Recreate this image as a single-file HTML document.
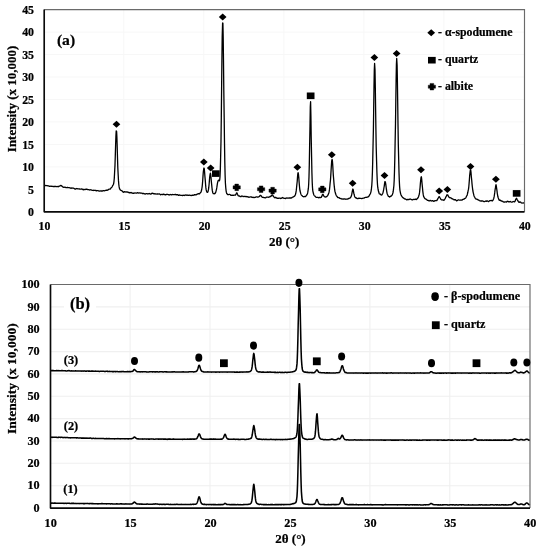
<!DOCTYPE html>
<html lang="en"><head><meta charset="utf-8"><title>XRD patterns</title>
<style>html,body{margin:0;padding:0;background:#fff}body{width:542px;height:550px;overflow:hidden}svg{display:block}
text{font-family:"Liberation Serif","DejaVu Serif",serif;font-weight:bold;fill:#000;stroke:#000;stroke-width:0.22px}
.tk{font-size:11.8px}.ti{font-size:13px}.lg{font-size:11.8px}.pl{font-size:15.6px}.plb{font-size:16.5px}.tkb{font-size:12.2px}.tib{font-size:13.5px}.lgb{font-size:12.15px}.cl{font-size:12.4px}
.g{stroke:#f7f7f7;stroke-width:1;fill:none}.gb{stroke:#f0f0f0;stroke-width:1.1;fill:none}.ax{stroke:#0a0a0a;stroke-width:1.65;fill:none;stroke-linejoin:round}.fr{stroke:#6a6a6a;stroke-width:1.15;fill:none}.cv{stroke:#000;stroke-width:1.3;fill:none;stroke-linejoin:round}.cw{stroke:#000;stroke-width:1.55;fill:none;stroke-linejoin:round}
</style></head><body>
<svg width="542" height="550" viewBox="0 0 542 550">
<rect width="542" height="550" fill="#fff"/>
<path class="g" d="M44.2 189.3H524.5M44.2 166.9H524.5M44.2 144.4H524.5M44.2 121.9H524.5M44.2 99.5H524.5M44.2 77.0H524.5M44.2 54.5H524.5M44.2 32.1H524.5M44.2 9.6H524.5M123.8 9.6V211.8M203.8 9.6V211.8M283.9 9.6V211.8M363.9 9.6V211.8M443.9 9.6V211.8"/>
<path class="cv" d="M44.2,185.5 L44.5,185.6 L44.8,185.7 L45.2,185.7 L45.5,185.5 L45.8,185.5 L46.1,185.5 L46.4,185.6 L46.8,185.7 L47.1,185.6 L47.4,185.7 L47.7,185.8 L48.0,185.8 L48.4,185.9 L48.7,185.9 L49.0,186.1 L49.3,186.3 L49.6,186.4 L50.0,186.4 L50.3,186.3 L50.6,186.2 L50.9,186.1 L51.2,186.1 L51.6,186.3 L51.9,186.4 L52.2,186.5 L52.5,186.4 L52.8,186.3 L53.2,186.4 L53.5,186.6 L53.8,186.7 L54.1,186.5 L54.4,186.5 L54.8,186.5 L55.1,186.4 L55.4,186.5 L55.7,186.5 L56.0,186.5 L56.4,186.6 L56.7,186.7 L57.0,186.7 L57.3,186.5 L57.6,186.7 L58.0,186.5 L58.3,186.5 L58.6,186.7 L58.9,186.3 L59.2,186.2 L59.6,186.2 L59.9,185.9 L60.2,185.8 L60.5,185.6 L60.9,185.4 L61.2,185.5 L61.5,185.8 L61.8,185.9 L62.1,186.4 L62.5,186.6 L62.8,186.9 L63.1,187.1 L63.4,187.2 L63.7,187.4 L64.1,187.4 L64.4,187.3 L64.7,187.1 L65.0,187.2 L65.3,187.3 L65.7,187.4 L66.0,187.7 L66.3,187.7 L66.6,187.6 L66.9,187.6 L67.3,187.4 L67.6,187.4 L67.9,187.5 L68.2,187.7 L68.5,187.6 L68.9,187.7 L69.2,187.7 L69.5,187.7 L69.8,187.9 L70.1,187.9 L70.5,188.1 L70.8,188.2 L71.1,188.3 L71.4,188.2 L71.7,188.0 L72.1,188.1 L72.4,188.0 L72.7,188.2 L73.0,188.2 L73.3,188.2 L73.7,188.2 L74.0,188.4 L74.3,188.5 L74.6,188.7 L74.9,189.0 L75.3,189.0 L75.6,189.1 L75.9,189.0 L76.2,188.5 L76.5,188.6 L76.9,188.6 L77.2,188.6 L77.5,188.8 L77.8,188.8 L78.1,188.8 L78.5,188.8 L78.8,188.8 L79.1,188.9 L79.4,188.9 L79.7,189.1 L80.1,189.2 L80.4,189.1 L80.7,189.2 L81.0,189.1 L81.3,189.0 L81.7,189.0 L82.0,189.0 L82.3,189.1 L82.6,189.4 L82.9,189.6 L83.3,189.5 L83.6,189.8 L83.9,189.5 L84.2,189.6 L84.5,189.5 L84.9,189.4 L85.2,189.4 L85.5,189.2 L85.8,189.5 L86.1,189.3 L86.5,189.2 L86.8,189.3 L87.1,189.2 L87.4,189.4 L87.7,189.7 L88.1,189.6 L88.4,189.6 L88.7,189.7 L89.0,189.7 L89.3,189.9 L89.7,190.0 L90.0,189.9 L90.3,189.9 L90.6,189.8 L90.9,189.7 L91.3,190.0 L91.6,190.1 L91.9,190.3 L92.2,190.3 L92.6,190.3 L92.9,190.3 L93.2,190.4 L93.5,190.5 L93.8,190.2 L94.2,190.3 L94.5,190.4 L94.8,190.3 L95.1,190.3 L95.4,190.5 L95.8,190.4 L96.1,190.5 L96.4,190.9 L96.7,190.7 L97.0,190.7 L97.4,190.7 L97.7,190.6 L98.0,190.7 L98.3,190.8 L98.6,190.9 L99.0,190.9 L99.3,191.2 L99.6,191.0 L99.9,191.1 L100.2,191.0 L100.6,190.8 L100.9,191.0 L101.2,191.0 L101.5,191.0 L101.8,191.0 L102.2,191.0 L102.5,191.0 L102.8,190.8 L103.1,190.7 L103.4,190.6 L103.8,190.7 L104.1,190.9 L104.4,190.8 L104.7,190.7 L105.0,190.6 L105.4,190.4 L105.7,190.4 L106.0,190.4 L106.3,190.2 L106.6,190.3 L107.0,190.1 L107.3,190.3 L107.6,190.1 L107.9,189.9 L108.2,189.9 L108.6,189.4 L108.9,189.1 L109.2,189.1 L109.5,189.2 L109.8,189.1 L110.2,189.1 L110.5,188.6 L110.8,188.0 L111.1,187.9 L111.4,187.7 L111.8,187.2 L112.1,186.9 L112.4,186.3 L112.7,185.6 L113.0,185.1 L113.4,184.5 L113.7,183.3 L114.0,181.3 L114.3,178.1 L114.6,172.5 L115.0,165.1 L115.3,155.6 L115.6,145.4 L115.9,136.4 L116.2,130.9 L116.6,131.4 L116.9,137.3 L117.2,147.1 L117.5,157.7 L117.8,167.5 L118.2,175.2 L118.5,180.9 L118.8,184.5 L119.1,186.7 L119.4,188.3 L119.8,189.1 L120.1,189.8 L120.4,190.0 L120.7,190.2 L121.0,190.4 L121.4,190.6 L121.7,190.7 L122.0,190.8 L122.3,191.2 L122.6,191.4 L123.0,191.8 L123.3,192.3 L123.6,192.2 L123.9,192.1 L124.2,191.9 L124.6,191.7 L124.9,191.8 L125.2,191.9 L125.5,192.0 L125.9,191.9 L126.2,191.8 L126.5,192.0 L126.8,192.0 L127.1,192.0 L127.5,192.0 L127.8,192.2 L128.1,192.3 L128.4,192.5 L128.7,192.4 L129.1,192.5 L129.4,192.7 L129.7,192.6 L130.0,193.0 L130.3,192.7 L130.7,192.5 L131.0,192.6 L131.3,192.5 L131.6,192.7 L131.9,193.1 L132.3,193.1 L132.6,193.2 L132.9,193.3 L133.2,193.2 L133.5,193.2 L133.9,193.3 L134.2,193.2 L134.5,193.0 L134.8,192.9 L135.1,192.8 L135.5,193.0 L135.8,193.1 L136.1,193.2 L136.4,193.2 L136.7,193.1 L137.1,192.9 L137.4,192.6 L137.7,192.8 L138.0,192.8 L138.3,192.9 L138.7,193.1 L139.0,193.1 L139.3,193.0 L139.6,192.8 L139.9,192.9 L140.3,192.9 L140.6,193.2 L140.9,193.1 L141.2,193.1 L141.5,193.1 L141.9,193.1 L142.2,193.4 L142.5,193.6 L142.8,193.5 L143.1,193.5 L143.5,193.5 L143.8,193.5 L144.1,193.6 L144.4,193.8 L144.7,193.9 L145.1,194.0 L145.4,194.0 L145.7,193.8 L146.0,193.8 L146.3,193.6 L146.7,193.7 L147.0,193.7 L147.3,193.7 L147.6,193.9 L147.9,194.0 L148.3,193.9 L148.6,193.6 L148.9,193.6 L149.2,193.5 L149.5,193.7 L149.9,193.9 L150.2,194.0 L150.5,194.1 L150.8,193.8 L151.1,194.0 L151.5,193.7 L151.8,193.3 L152.1,193.5 L152.4,193.3 L152.7,193.2 L153.1,193.4 L153.4,193.5 L153.7,193.8 L154.0,194.0 L154.3,193.8 L154.7,193.7 L155.0,193.7 L155.3,193.8 L155.6,194.0 L155.9,194.1 L156.3,194.1 L156.6,194.0 L156.9,193.9 L157.2,194.0 L157.6,194.0 L157.9,194.0 L158.2,194.1 L158.5,194.0 L158.8,193.9 L159.2,193.8 L159.5,193.9 L159.8,194.2 L160.1,194.3 L160.4,194.7 L160.8,194.9 L161.1,194.6 L161.4,194.5 L161.7,194.3 L162.0,194.4 L162.4,194.5 L162.7,194.7 L163.0,194.6 L163.3,194.2 L163.6,194.2 L164.0,194.2 L164.3,194.4 L164.6,194.7 L164.9,194.7 L165.2,194.8 L165.6,194.7 L165.9,194.8 L166.2,194.6 L166.5,194.4 L166.8,194.3 L167.2,194.3 L167.5,194.3 L167.8,194.5 L168.1,194.6 L168.4,194.6 L168.8,194.9 L169.1,195.0 L169.4,194.8 L169.7,194.8 L170.0,194.7 L170.4,194.4 L170.7,194.7 L171.0,194.7 L171.3,194.8 L171.6,194.8 L172.0,194.7 L172.3,194.5 L172.6,194.5 L172.9,194.6 L173.2,194.7 L173.6,194.7 L173.9,194.6 L174.2,194.7 L174.5,194.5 L174.8,194.6 L175.2,194.6 L175.5,194.4 L175.8,194.6 L176.1,194.9 L176.4,194.7 L176.8,194.8 L177.1,194.6 L177.4,194.6 L177.7,194.8 L178.0,195.1 L178.4,195.3 L178.7,195.1 L179.0,195.3 L179.3,195.0 L179.6,195.0 L180.0,195.2 L180.3,195.1 L180.6,195.4 L180.9,195.4 L181.2,195.3 L181.6,195.3 L181.9,195.4 L182.2,195.5 L182.5,195.5 L182.8,195.5 L183.2,195.3 L183.5,195.3 L183.8,195.2 L184.1,195.3 L184.4,195.5 L184.8,195.2 L185.1,195.2 L185.4,195.0 L185.7,195.0 L186.0,195.1 L186.4,195.1 L186.7,195.3 L187.0,195.2 L187.3,195.3 L187.6,195.2 L188.0,195.1 L188.3,195.3 L188.6,195.3 L188.9,195.3 L189.3,195.2 L189.6,195.2 L189.9,195.2 L190.2,195.4 L190.5,195.3 L190.9,195.4 L191.2,195.6 L191.5,195.4 L191.8,195.3 L192.1,195.3 L192.5,195.1 L192.8,195.2 L193.1,195.4 L193.4,195.2 L193.7,195.1 L194.1,195.0 L194.4,194.7 L194.7,194.8 L195.0,194.7 L195.3,194.7 L195.7,194.8 L196.0,194.9 L196.3,194.7 L196.6,194.6 L196.9,194.3 L197.3,194.0 L197.6,194.1 L197.9,194.0 L198.2,193.7 L198.5,193.7 L198.9,193.8 L199.2,193.7 L199.5,193.9 L199.8,193.5 L200.1,193.0 L200.5,192.6 L200.8,192.3 L201.1,191.8 L201.4,190.8 L201.7,189.5 L202.1,187.1 L202.4,184.2 L202.7,180.5 L203.0,176.1 L203.3,172.1 L203.7,169.0 L204.0,168.0 L204.3,169.0 L204.6,172.2 L204.9,176.3 L205.3,180.6 L205.6,184.7 L205.9,187.9 L206.2,189.9 L206.5,191.2 L206.9,191.8 L207.2,192.3 L207.5,192.4 L207.8,192.1 L208.1,191.2 L208.5,189.4 L208.8,187.2 L209.1,184.2 L209.4,180.6 L209.7,177.2 L210.1,174.4 L210.4,173.2 L210.7,174.5 L211.0,177.4 L211.3,181.1 L211.7,184.9 L212.0,188.0 L212.3,190.4 L212.6,192.0 L212.9,193.0 L213.3,193.6 L213.6,193.7 L213.9,193.7 L214.2,193.8 L214.5,193.5 L214.9,193.5 L215.2,193.2 L215.5,192.6 L215.8,192.1 L216.1,190.8 L216.5,189.3 L216.8,187.7 L217.1,185.6 L217.4,183.7 L217.7,182.1 L218.1,180.8 L218.4,180.2 L218.7,180.2 L219.0,180.6 L219.3,180.8 L219.7,179.9 L220.0,176.9 L220.3,170.2 L220.6,158.4 L221.0,141.0 L221.3,117.2 L221.6,89.2 L221.9,60.8 L222.2,36.7 L222.6,23.0 L222.9,23.1 L223.2,37.2 L223.5,61.4 L223.8,90.2 L224.2,118.8 L224.5,143.2 L224.8,161.9 L225.1,174.9 L225.4,183.0 L225.8,188.1 L226.1,190.8 L226.4,192.4 L226.7,193.5 L227.0,193.8 L227.4,194.2 L227.7,194.6 L228.0,194.6 L228.3,194.6 L228.6,194.6 L229.0,194.5 L229.3,194.4 L229.6,194.4 L229.9,194.5 L230.2,194.6 L230.6,195.0 L230.9,195.4 L231.2,195.4 L231.5,195.4 L231.8,195.2 L232.2,195.1 L232.5,195.3 L232.8,195.3 L233.1,195.3 L233.4,195.3 L233.8,195.1 L234.1,195.1 L234.4,195.1 L234.7,195.1 L235.0,195.2 L235.4,195.2 L235.7,194.6 L236.0,194.1 L236.3,193.4 L236.6,192.9 L237.0,193.0 L237.3,193.7 L237.6,194.5 L237.9,195.2 L238.2,195.7 L238.6,195.9 L238.9,196.0 L239.2,196.0 L239.5,196.0 L239.8,196.1 L240.2,196.6 L240.5,196.6 L240.8,196.6 L241.1,196.6 L241.4,196.2 L241.8,196.0 L242.1,196.1 L242.4,196.1 L242.7,196.3 L243.0,196.5 L243.4,196.6 L243.7,196.5 L244.0,196.4 L244.3,196.4 L244.6,196.4 L245.0,196.6 L245.3,196.6 L245.6,196.6 L245.9,196.4 L246.2,196.6 L246.6,196.7 L246.9,196.8 L247.2,196.8 L247.5,196.7 L247.8,196.8 L248.2,196.9 L248.5,197.0 L248.8,197.3 L249.1,197.3 L249.4,197.1 L249.8,197.1 L250.1,197.0 L250.4,196.9 L250.7,196.9 L251.0,197.0 L251.4,196.9 L251.7,197.0 L252.0,197.3 L252.3,197.3 L252.7,197.5 L253.0,197.4 L253.3,197.3 L253.6,197.5 L253.9,197.4 L254.3,197.6 L254.6,197.5 L254.9,197.4 L255.2,197.4 L255.5,197.2 L255.9,197.1 L256.2,196.8 L256.5,196.8 L256.8,196.8 L257.1,196.9 L257.5,197.1 L257.8,197.2 L258.1,197.1 L258.4,197.0 L258.7,196.9 L259.1,196.6 L259.4,196.5 L259.7,196.0 L260.0,195.6 L260.3,195.3 L260.7,195.3 L261.0,195.7 L261.3,196.2 L261.6,196.4 L261.9,196.9 L262.3,197.2 L262.6,197.4 L262.9,197.4 L263.2,197.4 L263.5,197.5 L263.9,197.5 L264.2,197.6 L264.5,197.6 L264.8,197.8 L265.1,197.8 L265.5,197.9 L265.8,197.6 L266.1,197.4 L266.4,197.2 L266.7,197.1 L267.1,197.1 L267.4,197.2 L267.7,197.2 L268.0,197.2 L268.3,197.3 L268.7,197.2 L269.0,197.2 L269.3,197.0 L269.6,196.8 L269.9,196.7 L270.3,196.3 L270.6,196.6 L270.9,196.4 L271.2,196.1 L271.5,195.7 L271.9,195.0 L272.2,194.9 L272.5,195.1 L272.8,195.3 L273.1,196.0 L273.5,196.5 L273.8,196.7 L274.1,197.2 L274.4,197.6 L274.7,197.7 L275.1,197.8 L275.4,197.7 L275.7,197.3 L276.0,197.5 L276.3,197.7 L276.7,198.0 L277.0,198.3 L277.3,198.4 L277.6,198.2 L277.9,198.3 L278.3,198.2 L278.6,198.3 L278.9,198.3 L279.2,198.2 L279.5,198.2 L279.9,198.1 L280.2,198.2 L280.5,198.3 L280.8,198.6 L281.1,198.5 L281.5,198.2 L281.8,197.9 L282.1,197.6 L282.4,197.5 L282.7,197.8 L283.1,197.9 L283.4,198.1 L283.7,198.2 L284.0,198.2 L284.3,198.4 L284.7,198.4 L285.0,198.5 L285.3,198.5 L285.6,198.5 L286.0,198.2 L286.3,198.2 L286.6,198.1 L286.9,197.9 L287.2,198.1 L287.6,198.2 L287.9,198.2 L288.2,198.2 L288.5,198.2 L288.8,198.1 L289.2,197.8 L289.5,198.0 L289.8,198.0 L290.1,198.0 L290.4,197.9 L290.8,198.0 L291.1,198.0 L291.4,198.0 L291.7,197.9 L292.0,197.5 L292.4,197.2 L292.7,197.2 L293.0,197.0 L293.3,196.9 L293.6,196.9 L294.0,196.4 L294.3,196.3 L294.6,196.1 L294.9,195.6 L295.2,195.1 L295.6,194.1 L295.9,192.6 L296.2,190.9 L296.5,188.2 L296.8,185.1 L297.2,181.5 L297.5,177.4 L297.8,173.9 L298.1,172.6 L298.4,173.9 L298.8,177.5 L299.1,181.9 L299.4,185.5 L299.7,188.6 L300.0,190.8 L300.4,192.2 L300.7,193.4 L301.0,194.2 L301.3,194.8 L301.6,195.3 L302.0,195.6 L302.3,195.8 L302.6,196.3 L302.9,196.5 L303.2,196.6 L303.6,196.7 L303.9,196.8 L304.2,196.6 L304.5,196.5 L304.8,196.5 L305.2,196.4 L305.5,196.5 L305.8,196.2 L306.1,195.9 L306.4,195.4 L306.8,195.0 L307.1,194.4 L307.4,193.7 L307.7,192.7 L308.0,190.9 L308.4,188.2 L308.7,184.0 L309.0,176.7 L309.3,164.8 L309.6,147.5 L310.0,125.9 L310.3,106.8 L310.6,101.7 L310.9,115.4 L311.2,137.1 L311.6,157.1 L311.9,172.3 L312.2,182.0 L312.5,187.6 L312.8,190.8 L313.2,192.5 L313.5,193.8 L313.8,194.7 L314.1,195.3 L314.4,195.7 L314.8,196.0 L315.1,196.3 L315.4,196.6 L315.7,197.0 L316.0,197.2 L316.4,197.3 L316.7,197.4 L317.0,197.5 L317.3,197.4 L317.7,197.4 L318.0,197.5 L318.3,197.6 L318.6,197.8 L318.9,197.4 L319.3,197.5 L319.6,197.5 L319.9,197.5 L320.2,197.7 L320.5,197.5 L320.9,197.4 L321.2,197.3 L321.5,196.9 L321.8,196.4 L322.1,195.6 L322.5,194.6 L322.8,194.3 L323.1,194.4 L323.4,195.1 L323.7,195.9 L324.1,196.3 L324.4,196.7 L324.7,196.8 L325.0,196.9 L325.3,196.9 L325.7,197.1 L326.0,197.0 L326.3,196.8 L326.6,196.7 L326.9,196.4 L327.3,196.0 L327.6,195.7 L327.9,195.2 L328.2,194.5 L328.5,193.9 L328.9,192.7 L329.2,191.2 L329.5,189.4 L329.8,186.8 L330.1,183.4 L330.5,179.8 L330.8,175.1 L331.1,170.1 L331.4,165.2 L331.7,161.0 L332.1,159.4 L332.4,160.8 L332.7,164.6 L333.0,169.8 L333.3,175.1 L333.7,179.5 L334.0,183.6 L334.3,186.7 L334.6,189.2 L334.9,191.2 L335.3,192.5 L335.6,193.8 L335.9,194.6 L336.2,195.3 L336.5,195.9 L336.9,196.2 L337.2,196.6 L337.5,197.3 L337.8,197.4 L338.1,197.6 L338.5,197.7 L338.8,197.6 L339.1,197.7 L339.4,198.0 L339.7,198.3 L340.1,198.4 L340.4,198.5 L340.7,198.7 L341.0,198.5 L341.3,198.7 L341.7,199.0 L342.0,198.8 L342.3,199.0 L342.6,199.1 L342.9,199.0 L343.3,199.1 L343.6,199.0 L343.9,199.0 L344.2,198.9 L344.5,198.9 L344.9,199.1 L345.2,199.1 L345.5,199.1 L345.8,199.3 L346.1,199.2 L346.5,199.2 L346.8,199.2 L347.1,199.1 L347.4,199.1 L347.7,198.9 L348.1,198.9 L348.4,198.7 L348.7,198.4 L349.0,198.5 L349.4,198.2 L349.7,198.2 L350.0,198.0 L350.3,197.9 L350.6,197.5 L351.0,196.7 L351.3,196.2 L351.6,195.0 L351.9,193.6 L352.2,191.9 L352.6,189.9 L352.9,189.0 L353.2,189.7 L353.5,191.3 L353.8,193.2 L354.2,194.5 L354.5,195.9 L354.8,196.7 L355.1,197.3 L355.4,197.7 L355.8,197.7 L356.1,198.1 L356.4,198.0 L356.7,198.4 L357.0,198.5 L357.4,198.6 L357.7,198.7 L358.0,198.6 L358.3,198.4 L358.6,198.3 L359.0,198.1 L359.3,198.2 L359.6,198.4 L359.9,198.3 L360.2,198.3 L360.6,198.4 L360.9,198.4 L361.2,198.5 L361.5,198.6 L361.8,198.6 L362.2,198.4 L362.5,198.4 L362.8,198.3 L363.1,198.2 L363.4,198.2 L363.8,198.1 L364.1,198.2 L364.4,197.8 L364.7,197.7 L365.0,197.5 L365.4,197.3 L365.7,197.4 L366.0,197.4 L366.3,197.4 L366.6,197.4 L367.0,197.2 L367.3,197.0 L367.6,197.1 L367.9,197.0 L368.2,196.9 L368.6,196.6 L368.9,196.1 L369.2,195.8 L369.5,195.1 L369.8,194.6 L370.2,194.0 L370.5,193.4 L370.8,192.3 L371.1,191.1 L371.4,188.9 L371.8,185.2 L372.1,180.3 L372.4,172.6 L372.7,161.9 L373.0,147.6 L373.4,129.2 L373.7,108.2 L374.0,86.8 L374.3,70.0 L374.6,63.5 L375.0,69.9 L375.3,86.7 L375.6,107.9 L375.9,129.0 L376.2,147.1 L376.6,161.5 L376.9,172.0 L377.2,179.6 L377.5,184.6 L377.8,187.7 L378.2,190.0 L378.5,191.3 L378.8,192.3 L379.1,193.3 L379.4,193.8 L379.8,193.8 L380.1,194.1 L380.4,194.3 L380.7,194.6 L381.1,195.0 L381.4,195.1 L381.7,195.0 L382.0,194.7 L382.3,194.1 L382.7,193.5 L383.0,192.5 L383.3,191.3 L383.6,189.9 L383.9,188.0 L384.3,185.8 L384.6,183.3 L384.9,181.7 L385.2,181.6 L385.5,182.7 L385.9,185.2 L386.2,187.8 L386.5,189.9 L386.8,191.8 L387.1,193.4 L387.5,194.4 L387.8,195.1 L388.1,196.0 L388.4,196.1 L388.7,196.5 L389.1,196.7 L389.4,196.7 L389.7,197.0 L390.0,196.7 L390.3,196.4 L390.7,196.3 L391.0,196.0 L391.3,196.0 L391.6,195.6 L391.9,195.3 L392.3,194.9 L392.6,193.9 L392.9,193.0 L393.2,191.5 L393.5,189.1 L393.9,185.5 L394.2,180.0 L394.5,171.3 L394.8,159.2 L395.1,143.4 L395.5,123.7 L395.8,101.8 L396.1,80.9 L396.4,64.6 L396.7,58.5 L397.1,65.0 L397.4,81.2 L397.7,102.6 L398.0,124.5 L398.3,144.1 L398.7,160.1 L399.0,172.2 L399.3,180.7 L399.6,186.4 L399.9,190.0 L400.3,192.1 L400.6,193.6 L400.9,194.5 L401.2,195.2 L401.5,195.9 L401.9,196.4 L402.2,196.9 L402.5,197.2 L402.8,197.6 L403.1,197.7 L403.5,198.0 L403.8,198.3 L404.1,198.4 L404.4,198.7 L404.7,198.9 L405.1,199.0 L405.4,199.0 L405.7,199.1 L406.0,199.4 L406.3,199.5 L406.7,199.9 L407.0,199.8 L407.3,199.5 L407.6,199.4 L407.9,199.4 L408.3,199.5 L408.6,199.5 L408.9,199.6 L409.2,199.5 L409.5,199.2 L409.9,199.1 L410.2,199.0 L410.5,199.1 L410.8,199.2 L411.1,199.4 L411.5,199.6 L411.8,199.7 L412.1,199.8 L412.4,199.9 L412.8,199.8 L413.1,199.6 L413.4,199.3 L413.7,199.3 L414.0,199.3 L414.4,199.3 L414.7,199.5 L415.0,199.3 L415.3,199.2 L415.6,199.2 L416.0,199.4 L416.3,199.6 L416.6,199.3 L416.9,199.0 L417.2,198.7 L417.6,198.3 L417.9,198.0 L418.2,197.4 L418.5,196.7 L418.8,195.7 L419.2,194.6 L419.5,192.9 L419.8,190.1 L420.1,187.1 L420.4,183.1 L420.8,179.3 L421.1,177.0 L421.4,176.8 L421.7,179.3 L422.0,183.1 L422.4,186.9 L422.7,190.3 L423.0,192.8 L423.3,194.9 L423.6,196.4 L424.0,197.1 L424.3,197.8 L424.6,198.1 L424.9,198.6 L425.2,198.7 L425.6,199.0 L425.9,199.2 L426.2,199.2 L426.5,199.5 L426.8,199.8 L427.2,199.8 L427.5,200.3 L427.8,200.3 L428.1,200.4 L428.4,200.6 L428.8,200.7 L429.1,200.9 L429.4,200.9 L429.7,200.8 L430.0,200.5 L430.4,200.4 L430.7,200.5 L431.0,200.8 L431.3,200.9 L431.6,201.0 L432.0,200.9 L432.3,200.6 L432.6,200.7 L432.9,200.8 L433.2,200.9 L433.6,201.3 L433.9,201.4 L434.2,201.1 L434.5,200.9 L434.8,200.9 L435.2,200.7 L435.5,200.7 L435.8,200.7 L436.1,200.5 L436.4,200.5 L436.8,200.5 L437.1,200.1 L437.4,199.6 L437.7,199.0 L438.0,198.4 L438.4,197.7 L438.7,197.1 L439.0,196.8 L439.3,196.7 L439.6,197.1 L440.0,197.8 L440.3,198.2 L440.6,198.8 L440.9,199.5 L441.2,199.6 L441.6,199.8 L441.9,199.9 L442.2,199.8 L442.5,199.8 L442.8,199.9 L443.2,200.1 L443.5,200.2 L443.8,200.3 L444.1,200.2 L444.4,199.6 L444.8,199.1 L445.1,198.6 L445.4,198.1 L445.7,197.3 L446.1,196.7 L446.4,196.0 L446.7,195.1 L447.0,194.9 L447.3,194.8 L447.7,194.9 L448.0,195.5 L448.3,196.2 L448.6,196.6 L448.9,197.1 L449.3,197.4 L449.6,197.5 L449.9,197.8 L450.2,197.7 L450.5,197.8 L450.9,197.9 L451.2,198.0 L451.5,198.5 L451.8,198.5 L452.1,198.8 L452.5,198.8 L452.8,198.9 L453.1,199.2 L453.4,199.5 L453.7,199.7 L454.1,199.8 L454.4,199.7 L454.7,199.8 L455.0,199.7 L455.3,199.7 L455.7,199.9 L456.0,200.2 L456.3,200.5 L456.6,200.9 L456.9,200.7 L457.3,200.6 L457.6,200.3 L457.9,200.1 L458.2,200.0 L458.5,199.8 L458.9,200.0 L459.2,200.1 L459.5,200.2 L459.8,200.2 L460.1,200.2 L460.5,200.2 L460.8,200.0 L461.1,200.2 L461.4,200.0 L461.7,200.1 L462.1,200.1 L462.4,199.7 L462.7,199.6 L463.0,199.3 L463.3,199.4 L463.7,199.2 L464.0,199.1 L464.3,198.9 L464.6,198.5 L464.9,198.6 L465.3,198.3 L465.6,198.0 L465.9,197.6 L466.2,196.9 L466.5,196.2 L466.9,195.7 L467.2,194.9 L467.5,193.7 L467.8,192.5 L468.1,190.8 L468.5,189.2 L468.8,186.8 L469.1,183.4 L469.4,179.6 L469.7,175.4 L470.1,171.8 L470.4,169.9 L470.7,169.9 L471.0,172.4 L471.3,176.2 L471.7,180.0 L472.0,183.6 L472.3,186.5 L472.6,188.9 L472.9,191.0 L473.3,192.9 L473.6,194.2 L473.9,195.4 L474.2,196.2 L474.5,196.9 L474.9,197.5 L475.2,198.1 L475.5,198.6 L475.8,198.9 L476.1,199.2 L476.5,199.2 L476.8,199.0 L477.1,199.2 L477.4,199.5 L477.8,199.7 L478.1,200.0 L478.4,200.1 L478.7,200.0 L479.0,200.2 L479.4,200.5 L479.7,200.7 L480.0,200.9 L480.3,200.8 L480.6,201.0 L481.0,200.9 L481.3,201.0 L481.6,201.0 L481.9,201.0 L482.2,200.9 L482.6,200.9 L482.9,201.2 L483.2,201.3 L483.5,201.3 L483.8,201.6 L484.2,201.6 L484.5,201.6 L484.8,201.5 L485.1,201.3 L485.4,201.3 L485.8,201.0 L486.1,201.2 L486.4,201.3 L486.7,200.9 L487.0,201.1 L487.4,201.0 L487.7,201.2 L488.0,201.2 L488.3,201.4 L488.6,201.6 L489.0,201.1 L489.3,201.1 L489.6,200.8 L489.9,200.6 L490.2,200.7 L490.6,200.6 L490.9,200.6 L491.2,200.4 L491.5,200.6 L491.8,200.6 L492.2,200.8 L492.5,200.8 L492.8,200.3 L493.1,200.0 L493.4,199.3 L493.8,198.2 L494.1,196.9 L494.4,195.0 L494.7,192.9 L495.0,190.3 L495.4,187.9 L495.7,185.8 L496.0,184.7 L496.3,185.9 L496.6,188.1 L497.0,190.9 L497.3,193.5 L497.6,195.2 L497.9,196.8 L498.2,197.8 L498.6,198.7 L498.9,199.6 L499.2,200.1 L499.5,200.3 L499.8,200.2 L500.2,200.2 L500.5,200.3 L500.8,200.6 L501.1,201.0 L501.4,201.1 L501.8,201.0 L502.1,201.2 L502.4,201.2 L502.7,201.4 L503.0,201.6 L503.4,201.8 L503.7,201.9 L504.0,202.1 L504.3,202.1 L504.6,202.0 L505.0,202.0 L505.3,201.8 L505.6,201.9 L505.9,201.9 L506.2,201.9 L506.6,202.0 L506.9,201.6 L507.2,201.4 L507.5,201.3 L507.8,201.2 L508.2,201.6 L508.5,201.6 L508.8,201.6 L509.1,202.0 L509.5,201.6 L509.8,201.6 L510.1,201.7 L510.4,201.4 L510.7,201.8 L511.1,202.0 L511.4,202.1 L511.7,202.2 L512.0,202.1 L512.3,202.1 L512.7,201.8 L513.0,201.7 L513.3,201.5 L513.6,201.6 L513.9,201.6 L514.3,201.7 L514.6,201.9 L514.9,201.3 L515.2,201.0 L515.5,200.1 L515.9,199.1 L516.2,198.7 L516.5,198.3 L516.8,198.7 L517.1,199.5 L517.5,200.1 L517.8,200.7 L518.1,201.2 L518.4,201.7 L518.7,202.1 L519.1,202.4 L519.4,202.3 L519.7,202.0 L520.0,202.0 L520.3,202.0 L520.7,202.2 L521.0,202.6 L521.3,202.8 L521.6,203.0 L521.9,203.1 L522.3,203.1 L522.6,203.0 L522.9,202.9 L523.2,202.9 L523.5,203.0 L523.9,203.0 L524.2,202.8 L524.5,202.7"/>
<path class="fr" d="M44.2 9.6H524.5V211.8"/>
<path class="ax" d="M44.2 9.6V211.8H524.5"/>
<text class="tk" text-anchor="end" x="34" y="216.3">0</text>
<text class="tk" text-anchor="end" x="34" y="193.8">5</text>
<text class="tk" text-anchor="end" x="34" y="171.3">10</text>
<text class="tk" text-anchor="end" x="34" y="148.7">15</text>
<text class="tk" text-anchor="end" x="34" y="126.2">20</text>
<text class="tk" text-anchor="end" x="34" y="103.7">25</text>
<text class="tk" text-anchor="end" x="34" y="81.2">30</text>
<text class="tk" text-anchor="end" x="34" y="58.6">35</text>
<text class="tk" text-anchor="end" x="34" y="36.1">40</text>
<text class="tk" text-anchor="end" x="34" y="13.6">45</text>
<text class="tk" text-anchor="middle" x="44.5" y="229.9">10</text>
<text class="tk" text-anchor="middle" x="124.5" y="229.9">15</text>
<text class="tk" text-anchor="middle" x="204.6" y="229.9">20</text>
<text class="tk" text-anchor="middle" x="284.7" y="229.9">25</text>
<text class="tk" text-anchor="middle" x="364.7" y="229.9">30</text>
<text class="tk" text-anchor="middle" x="444.8" y="229.9">35</text>
<text class="tk" text-anchor="middle" x="524.8" y="229.9">40</text>
<text class="ti" text-anchor="middle" x="284.2" y="246.1">2θ (°)</text>
<text class="ti" text-anchor="middle" transform="translate(16.3 98.9) rotate(-90)">Intensity (x 10,000)</text>
<text class="pl" x="56.9" y="45">(a)</text>
<g fill="#000">
<path d="M112.6 124.2L116.5 120.7L120.3 124.2L116.5 127.7Z"/>
<path d="M200.0 162.1L203.8 158.6L207.7 162.1L203.8 165.6Z"/>
<path d="M206.8 168.0L210.7 164.5L214.5 168.0L210.7 171.5Z"/>
<path d="M293.5 167.2L297.4 163.7L301.2 167.2L297.4 170.7Z"/>
<path d="M327.9 154.8L331.8 151.3L335.7 154.8L331.8 158.3Z"/>
<path d="M348.8 183.2L352.6 179.7L356.5 183.2L352.6 186.7Z"/>
<path d="M380.6 175.6L384.5 172.1L388.4 175.6L384.5 179.1Z"/>
<path d="M370.5 57.5L374.4 54.0L378.2 57.5L374.4 61.0Z"/>
<path d="M392.8 53.5L396.6 50.0L400.5 53.5L396.6 57.0Z"/>
<path d="M417.1 169.7L421.0 166.2L424.9 169.7L421.0 173.2Z"/>
<path d="M435.3 191.0L439.2 187.5L443.1 191.0L439.2 194.5Z"/>
<path d="M443.5 189.4L447.4 185.9L451.2 189.4L447.4 192.9Z"/>
<path d="M466.6 166.5L470.5 163.0L474.4 166.5L470.5 170.0Z"/>
<path d="M492.0 179.2L495.9 175.7L499.8 179.2L495.9 182.7Z"/>
<path d="M218.8 17.1L222.7 13.6L226.5 17.1L222.7 20.6Z"/>
<path d="M427.3 32.7L431.2 29.2L435.1 32.7L431.2 36.2Z"/>
<rect x="212.0" y="170.3" width="7.7" height="6.6"/>
<rect x="306.8" y="92.5" width="7.7" height="6.6"/>
<rect x="512.8" y="190.1" width="7.7" height="6.6"/>
<rect x="428.0" y="56.9" width="7.7" height="6.6"/>
<path d="M234.85 184.05h3.70v1.75h1.80v3.10h-1.80v1.75h-3.70v-1.75h-1.80v-3.10h1.80Z" stroke="#000" stroke-width="0.4" stroke-linejoin="round"/>
<path d="M259.25 185.90h3.70v1.75h1.80v3.10h-1.80v1.75h-3.70v-1.75h-1.80v-3.10h1.80Z" stroke="#000" stroke-width="0.4" stroke-linejoin="round"/>
<path d="M270.75 187.30h3.70v1.75h1.80v3.10h-1.80v1.75h-3.70v-1.75h-1.80v-3.10h1.80Z" stroke="#000" stroke-width="0.4" stroke-linejoin="round"/>
<path d="M320.45 186.10h3.70v1.75h1.80v3.10h-1.80v1.75h-3.70v-1.75h-1.80v-3.10h1.80Z" stroke="#000" stroke-width="0.4" stroke-linejoin="round"/>
<path d="M430.05 83.40h3.70v1.75h1.80v3.10h-1.80v1.75h-3.70v-1.75h-1.80v-3.10h1.80Z" stroke="#000" stroke-width="0.4" stroke-linejoin="round"/>
</g>
<text class="lg" x="438" y="35.9">- α-spodumene</text>
<text class="lg" x="438" y="62.8">- quartz</text>
<text class="lg" x="438" y="90.1">- albite</text>
<path class="gb" d="M50.5 485.7H530.0M50.5 463.3H530.0M50.5 441.0H530.0M50.5 418.6H530.0M50.5 396.3H530.0M50.5 373.9H530.0M50.5 351.6H530.0M50.5 329.2H530.0M50.5 306.9H530.0M50.5 284.5H530.0M130.1 284.5V508.1M210.0 284.5V508.1M289.9 284.5V508.1M369.9 284.5V508.1M449.8 284.5V508.1"/>
<path class="cw" d="M50.5,503.2 L50.8,503.2 L51.1,503.2 L51.5,503.1 L51.8,503.1 L52.1,503.0 L52.4,503.1 L52.7,503.2 L53.1,503.2 L53.4,503.2 L53.7,503.2 L54.0,503.1 L54.3,503.1 L54.7,503.1 L55.0,503.1 L55.3,503.1 L55.6,503.2 L55.9,503.2 L56.3,503.3 L56.6,503.3 L56.9,503.2 L57.2,503.2 L57.5,503.3 L57.9,503.3 L58.2,503.3 L58.5,503.2 L58.8,503.2 L59.1,503.2 L59.5,503.2 L59.8,503.2 L60.1,503.2 L60.4,503.2 L60.7,503.3 L61.0,503.3 L61.4,503.3 L61.7,503.3 L62.0,503.2 L62.3,503.2 L62.6,503.2 L63.0,503.3 L63.3,503.3 L63.6,503.3 L63.9,503.4 L64.2,503.4 L64.6,503.3 L64.9,503.3 L65.2,503.2 L65.5,503.3 L65.8,503.3 L66.2,503.4 L66.5,503.4 L66.8,503.3 L67.1,503.3 L67.4,503.2 L67.8,503.3 L68.1,503.3 L68.4,503.2 L68.7,503.3 L69.0,503.3 L69.4,503.2 L69.7,503.4 L70.0,503.4 L70.3,503.5 L70.6,503.5 L71.0,503.4 L71.3,503.4 L71.6,503.3 L71.9,503.4 L72.2,503.3 L72.6,503.4 L72.9,503.3 L73.2,503.4 L73.5,503.3 L73.8,503.3 L74.2,503.4 L74.5,503.4 L74.8,503.4 L75.1,503.5 L75.4,503.4 L75.8,503.5 L76.1,503.6 L76.4,503.5 L76.7,503.5 L77.0,503.4 L77.4,503.4 L77.7,503.4 L78.0,503.4 L78.3,503.4 L78.6,503.5 L79.0,503.6 L79.3,503.6 L79.6,503.5 L79.9,503.5 L80.2,503.4 L80.5,503.4 L80.9,503.4 L81.2,503.5 L81.5,503.5 L81.8,503.4 L82.1,503.4 L82.5,503.4 L82.8,503.5 L83.1,503.6 L83.4,503.6 L83.7,503.7 L84.1,503.6 L84.4,503.6 L84.7,503.6 L85.0,503.6 L85.3,503.5 L85.7,503.5 L86.0,503.5 L86.3,503.4 L86.6,503.4 L86.9,503.5 L87.3,503.4 L87.6,503.5 L87.9,503.5 L88.2,503.5 L88.5,503.6 L88.9,503.7 L89.2,503.7 L89.5,503.6 L89.8,503.6 L90.1,503.5 L90.5,503.5 L90.8,503.6 L91.1,503.5 L91.4,503.6 L91.7,503.6 L92.1,503.6 L92.4,503.6 L92.7,503.6 L93.0,503.6 L93.3,503.7 L93.7,503.7 L94.0,503.7 L94.3,503.7 L94.6,503.7 L94.9,503.7 L95.3,503.7 L95.6,503.7 L95.9,503.7 L96.2,503.7 L96.5,503.7 L96.9,503.7 L97.2,503.8 L97.5,503.8 L97.8,503.9 L98.1,503.9 L98.4,503.8 L98.8,503.8 L99.1,503.8 L99.4,503.7 L99.7,503.7 L100.0,503.8 L100.4,503.8 L100.7,503.8 L101.0,503.8 L101.3,503.7 L101.6,503.6 L102.0,503.6 L102.3,503.6 L102.6,503.7 L102.9,503.7 L103.2,503.7 L103.6,503.8 L103.9,503.7 L104.2,503.8 L104.5,503.8 L104.8,503.7 L105.2,503.8 L105.5,503.8 L105.8,503.8 L106.1,503.8 L106.4,503.9 L106.8,503.8 L107.1,503.8 L107.4,503.8 L107.7,503.8 L108.0,503.8 L108.4,503.8 L108.7,503.8 L109.0,503.8 L109.3,503.8 L109.6,503.8 L110.0,503.8 L110.3,503.9 L110.6,503.9 L110.9,503.9 L111.2,503.8 L111.6,503.8 L111.9,503.8 L112.2,503.8 L112.5,503.9 L112.8,504.0 L113.2,504.0 L113.5,504.0 L113.8,504.0 L114.1,504.0 L114.4,504.0 L114.8,504.0 L115.1,504.0 L115.4,503.9 L115.7,503.9 L116.0,503.9 L116.4,503.8 L116.7,503.9 L117.0,503.8 L117.3,503.9 L117.6,504.0 L117.9,503.9 L118.3,504.0 L118.6,503.9 L118.9,503.9 L119.2,504.0 L119.5,503.9 L119.9,504.0 L120.2,503.9 L120.5,503.8 L120.8,503.8 L121.1,503.8 L121.5,503.9 L121.8,503.8 L122.1,503.9 L122.4,503.9 L122.7,503.9 L123.1,504.0 L123.4,504.0 L123.7,504.0 L124.0,504.1 L124.3,504.0 L124.7,504.1 L125.0,504.0 L125.3,503.9 L125.6,503.9 L125.9,503.8 L126.3,503.9 L126.6,503.9 L126.9,503.9 L127.2,503.9 L127.5,503.9 L127.9,503.9 L128.2,504.0 L128.5,504.0 L128.8,504.0 L129.1,504.1 L129.5,504.0 L129.8,504.0 L130.1,504.0 L130.4,503.9 L130.7,503.9 L131.1,503.9 L131.4,503.9 L131.7,503.9 L132.0,503.8 L132.3,503.7 L132.7,503.5 L133.0,503.2 L133.3,503.0 L133.6,502.6 L133.9,502.3 L134.3,502.1 L134.6,502.1 L134.9,502.3 L135.2,502.6 L135.5,502.9 L135.9,503.2 L136.2,503.5 L136.5,503.7 L136.8,503.9 L137.1,504.0 L137.4,503.9 L137.8,504.0 L138.1,504.0 L138.4,504.0 L138.7,504.0 L139.0,504.0 L139.4,504.1 L139.7,504.1 L140.0,504.1 L140.3,504.1 L140.6,504.0 L141.0,504.1 L141.3,504.1 L141.6,504.1 L141.9,504.1 L142.2,504.1 L142.6,504.2 L142.9,504.2 L143.2,504.2 L143.5,504.2 L143.8,504.2 L144.2,504.2 L144.5,504.2 L144.8,504.2 L145.1,504.2 L145.4,504.3 L145.8,504.3 L146.1,504.3 L146.4,504.2 L146.7,504.1 L147.0,504.1 L147.4,504.0 L147.7,504.1 L148.0,504.2 L148.3,504.2 L148.6,504.2 L149.0,504.2 L149.3,504.2 L149.6,504.2 L149.9,504.2 L150.2,504.3 L150.6,504.2 L150.9,504.2 L151.2,504.2 L151.5,504.2 L151.8,504.2 L152.2,504.3 L152.5,504.3 L152.8,504.2 L153.1,504.1 L153.4,504.1 L153.8,504.0 L154.1,504.0 L154.4,504.1 L154.7,504.1 L155.0,504.0 L155.4,503.9 L155.7,503.8 L156.0,503.9 L156.3,503.9 L156.6,504.0 L156.9,504.0 L157.3,504.0 L157.6,504.1 L157.9,504.2 L158.2,504.2 L158.5,504.3 L158.9,504.3 L159.2,504.3 L159.5,504.4 L159.8,504.4 L160.1,504.3 L160.5,504.3 L160.8,504.3 L161.1,504.3 L161.4,504.3 L161.7,504.4 L162.1,504.5 L162.4,504.4 L162.7,504.3 L163.0,504.3 L163.3,504.3 L163.7,504.3 L164.0,504.4 L164.3,504.4 L164.6,504.3 L164.9,504.4 L165.3,504.4 L165.6,504.4 L165.9,504.3 L166.2,504.3 L166.5,504.3 L166.9,504.3 L167.2,504.3 L167.5,504.3 L167.8,504.3 L168.1,504.3 L168.5,504.3 L168.8,504.4 L169.1,504.4 L169.4,504.4 L169.7,504.4 L170.1,504.4 L170.4,504.3 L170.7,504.4 L171.0,504.4 L171.3,504.5 L171.7,504.5 L172.0,504.5 L172.3,504.5 L172.6,504.4 L172.9,504.4 L173.3,504.4 L173.6,504.4 L173.9,504.4 L174.2,504.4 L174.5,504.4 L174.9,504.3 L175.2,504.4 L175.5,504.4 L175.8,504.4 L176.1,504.4 L176.4,504.3 L176.8,504.3 L177.1,504.3 L177.4,504.3 L177.7,504.4 L178.0,504.4 L178.4,504.4 L178.7,504.4 L179.0,504.4 L179.3,504.4 L179.6,504.5 L180.0,504.5 L180.3,504.4 L180.6,504.4 L180.9,504.4 L181.2,504.3 L181.6,504.4 L181.9,504.4 L182.2,504.5 L182.5,504.5 L182.8,504.5 L183.2,504.5 L183.5,504.5 L183.8,504.5 L184.1,504.5 L184.4,504.5 L184.8,504.5 L185.1,504.4 L185.4,504.5 L185.7,504.5 L186.0,504.5 L186.4,504.5 L186.7,504.5 L187.0,504.5 L187.3,504.5 L187.6,504.5 L188.0,504.5 L188.3,504.5 L188.6,504.5 L188.9,504.5 L189.2,504.5 L189.6,504.4 L189.9,504.4 L190.2,504.4 L190.5,504.3 L190.8,504.4 L191.2,504.4 L191.5,504.4 L191.8,504.4 L192.1,504.3 L192.4,504.3 L192.8,504.3 L193.1,504.3 L193.4,504.4 L193.7,504.3 L194.0,504.3 L194.3,504.3 L194.7,504.3 L195.0,504.3 L195.3,504.3 L195.6,504.2 L195.9,504.1 L196.3,503.9 L196.6,503.6 L196.9,503.1 L197.2,502.5 L197.5,501.7 L197.9,500.5 L198.2,499.3 L198.5,498.1 L198.8,497.1 L199.1,496.8 L199.5,497.1 L199.8,498.1 L200.1,499.3 L200.4,500.6 L200.7,501.8 L201.1,502.7 L201.4,503.3 L201.7,503.7 L202.0,503.9 L202.3,504.0 L202.7,504.2 L203.0,504.3 L203.3,504.3 L203.6,504.4 L203.9,504.4 L204.3,504.3 L204.6,504.4 L204.9,504.3 L205.2,504.5 L205.5,504.5 L205.9,504.6 L206.2,504.6 L206.5,504.6 L206.8,504.6 L207.1,504.5 L207.5,504.5 L207.8,504.5 L208.1,504.5 L208.4,504.6 L208.7,504.6 L209.1,504.5 L209.4,504.6 L209.7,504.5 L210.0,504.5 L210.3,504.6 L210.7,504.5 L211.0,504.6 L211.3,504.6 L211.6,504.6 L211.9,504.6 L212.3,504.6 L212.6,504.5 L212.9,504.6 L213.2,504.7 L213.5,504.6 L213.8,504.6 L214.2,504.7 L214.5,504.6 L214.8,504.6 L215.1,504.6 L215.4,504.6 L215.8,504.6 L216.1,504.7 L216.4,504.7 L216.7,504.7 L217.0,504.7 L217.4,504.7 L217.7,504.7 L218.0,504.6 L218.3,504.6 L218.6,504.6 L219.0,504.6 L219.3,504.6 L219.6,504.7 L219.9,504.7 L220.2,504.6 L220.6,504.6 L220.9,504.6 L221.2,504.6 L221.5,504.5 L221.8,504.6 L222.2,504.6 L222.5,504.6 L222.8,504.5 L223.1,504.5 L223.4,504.4 L223.8,504.3 L224.1,504.0 L224.4,503.7 L224.7,503.5 L225.0,503.4 L225.4,503.5 L225.7,503.7 L226.0,503.9 L226.3,504.1 L226.6,504.3 L227.0,504.5 L227.3,504.5 L227.6,504.5 L227.9,504.5 L228.2,504.4 L228.6,504.4 L228.9,504.5 L229.2,504.5 L229.5,504.6 L229.8,504.7 L230.2,504.7 L230.5,504.7 L230.8,504.6 L231.1,504.6 L231.4,504.6 L231.8,504.6 L232.1,504.6 L232.4,504.6 L232.7,504.6 L233.0,504.6 L233.3,504.6 L233.7,504.7 L234.0,504.6 L234.3,504.6 L234.6,504.6 L234.9,504.6 L235.3,504.6 L235.6,504.7 L235.9,504.8 L236.2,504.7 L236.5,504.7 L236.9,504.7 L237.2,504.6 L237.5,504.5 L237.8,504.6 L238.1,504.6 L238.5,504.7 L238.8,504.7 L239.1,504.7 L239.4,504.7 L239.7,504.7 L240.1,504.6 L240.4,504.7 L240.7,504.8 L241.0,504.7 L241.3,504.7 L241.7,504.7 L242.0,504.7 L242.3,504.7 L242.6,504.7 L242.9,504.7 L243.3,504.6 L243.6,504.6 L243.9,504.5 L244.2,504.6 L244.5,504.5 L244.9,504.5 L245.2,504.5 L245.5,504.4 L245.8,504.4 L246.1,504.4 L246.5,504.4 L246.8,504.5 L247.1,504.4 L247.4,504.5 L247.7,504.5 L248.1,504.4 L248.4,504.3 L248.7,504.3 L249.0,504.2 L249.3,504.2 L249.7,504.1 L250.0,504.0 L250.3,503.8 L250.6,503.5 L250.9,503.2 L251.3,502.7 L251.6,501.8 L251.9,500.4 L252.2,498.3 L252.5,495.4 L252.8,492.0 L253.2,488.3 L253.5,485.5 L253.8,484.3 L254.1,485.5 L254.4,488.4 L254.8,491.9 L255.1,495.4 L255.4,498.2 L255.7,500.4 L256.0,501.8 L256.4,502.6 L256.7,503.2 L257.0,503.5 L257.3,503.7 L257.6,503.9 L258.0,503.9 L258.3,504.1 L258.6,504.2 L258.9,504.3 L259.2,504.5 L259.6,504.4 L259.9,504.3 L260.2,504.3 L260.5,504.2 L260.8,504.2 L261.2,504.4 L261.5,504.4 L261.8,504.4 L262.1,504.4 L262.4,504.4 L262.8,504.4 L263.1,504.6 L263.4,504.6 L263.7,504.6 L264.0,504.6 L264.4,504.6 L264.7,504.6 L265.0,504.6 L265.3,504.6 L265.6,504.6 L266.0,504.6 L266.3,504.6 L266.6,504.6 L266.9,504.7 L267.2,504.7 L267.6,504.7 L267.9,504.7 L268.2,504.7 L268.5,504.7 L268.8,504.6 L269.2,504.7 L269.5,504.7 L269.8,504.7 L270.1,504.7 L270.4,504.6 L270.8,504.6 L271.1,504.6 L271.4,504.6 L271.7,504.7 L272.0,504.6 L272.3,504.7 L272.7,504.6 L273.0,504.7 L273.3,504.7 L273.6,504.7 L273.9,504.8 L274.3,504.7 L274.6,504.7 L274.9,504.6 L275.2,504.6 L275.5,504.6 L275.9,504.6 L276.2,504.6 L276.5,504.6 L276.8,504.6 L277.1,504.6 L277.5,504.6 L277.8,504.6 L278.1,504.6 L278.4,504.6 L278.7,504.6 L279.1,504.6 L279.4,504.6 L279.7,504.5 L280.0,504.6 L280.3,504.6 L280.7,504.6 L281.0,504.6 L281.3,504.7 L281.6,504.6 L281.9,504.6 L282.3,504.5 L282.6,504.5 L282.9,504.6 L283.2,504.6 L283.5,504.6 L283.9,504.6 L284.2,504.6 L284.5,504.6 L284.8,504.5 L285.1,504.5 L285.5,504.5 L285.8,504.6 L286.1,504.5 L286.4,504.5 L286.7,504.6 L287.1,504.5 L287.4,504.5 L287.7,504.5 L288.0,504.4 L288.3,504.4 L288.7,504.4 L289.0,504.4 L289.3,504.4 L289.6,504.4 L289.9,504.4 L290.2,504.4 L290.6,504.3 L290.9,504.3 L291.2,504.2 L291.5,504.2 L291.8,504.0 L292.2,503.9 L292.5,503.8 L292.8,503.7 L293.1,503.6 L293.4,503.6 L293.8,503.6 L294.1,503.4 L294.4,503.4 L294.7,503.2 L295.0,503.1 L295.4,502.9 L295.7,502.6 L296.0,502.2 L296.3,501.3 L296.6,499.5 L297.0,496.3 L297.3,491.1 L297.6,483.0 L297.9,472.0 L298.2,458.4 L298.6,444.1 L298.9,431.7 L299.2,424.4 L299.5,424.4 L299.8,431.8 L300.2,444.2 L300.5,458.6 L300.8,472.3 L301.1,483.4 L301.4,491.6 L301.8,496.9 L302.1,500.0 L302.4,501.8 L302.7,502.7 L303.0,503.2 L303.4,503.4 L303.7,503.7 L304.0,503.8 L304.3,503.9 L304.6,504.0 L305.0,504.0 L305.3,504.1 L305.6,504.2 L305.9,504.2 L306.2,504.3 L306.6,504.3 L306.9,504.3 L307.2,504.3 L307.5,504.3 L307.8,504.3 L308.2,504.4 L308.5,504.4 L308.8,504.3 L309.1,504.4 L309.4,504.4 L309.7,504.4 L310.1,504.5 L310.4,504.5 L310.7,504.5 L311.0,504.5 L311.3,504.5 L311.7,504.5 L312.0,504.4 L312.3,504.5 L312.6,504.4 L312.9,504.4 L313.3,504.3 L313.6,504.2 L313.9,504.3 L314.2,504.2 L314.5,504.0 L314.9,503.7 L315.2,503.2 L315.5,502.5 L315.8,501.7 L316.1,500.8 L316.5,500.0 L316.8,499.4 L317.1,499.4 L317.4,499.9 L317.7,500.8 L318.1,501.7 L318.4,502.5 L318.7,503.2 L319.0,503.7 L319.3,504.0 L319.7,504.2 L320.0,504.3 L320.3,504.4 L320.6,504.4 L320.9,504.5 L321.3,504.5 L321.6,504.5 L321.9,504.5 L322.2,504.5 L322.5,504.5 L322.9,504.5 L323.2,504.4 L323.5,504.5 L323.8,504.6 L324.1,504.6 L324.5,504.6 L324.8,504.6 L325.1,504.7 L325.4,504.7 L325.7,504.7 L326.1,504.8 L326.4,504.7 L326.7,504.7 L327.0,504.7 L327.3,504.7 L327.7,504.7 L328.0,504.6 L328.3,504.6 L328.6,504.6 L328.9,504.6 L329.2,504.7 L329.6,504.7 L329.9,504.7 L330.2,504.7 L330.5,504.7 L330.8,504.6 L331.2,504.6 L331.5,504.6 L331.8,504.6 L332.1,504.6 L332.4,504.5 L332.8,504.5 L333.1,504.4 L333.4,504.5 L333.7,504.6 L334.0,504.6 L334.4,504.6 L334.7,504.6 L335.0,504.6 L335.3,504.6 L335.6,504.6 L336.0,504.6 L336.3,504.6 L336.6,504.5 L336.9,504.6 L337.2,504.5 L337.6,504.5 L337.9,504.5 L338.2,504.4 L338.5,504.4 L338.8,504.3 L339.2,504.1 L339.5,503.9 L339.8,503.5 L340.1,503.0 L340.4,502.3 L340.8,501.3 L341.1,500.3 L341.4,499.2 L341.7,498.3 L342.0,497.7 L342.4,497.7 L342.7,498.2 L343.0,499.2 L343.3,500.3 L343.6,501.4 L344.0,502.3 L344.3,503.0 L344.6,503.5 L344.9,503.9 L345.2,504.1 L345.6,504.2 L345.9,504.2 L346.2,504.3 L346.5,504.3 L346.8,504.4 L347.2,504.5 L347.5,504.6 L347.8,504.6 L348.1,504.7 L348.4,504.7 L348.7,504.7 L349.1,504.7 L349.4,504.6 L349.7,504.6 L350.0,504.6 L350.3,504.6 L350.7,504.6 L351.0,504.6 L351.3,504.6 L351.6,504.6 L351.9,504.6 L352.3,504.7 L352.6,504.6 L352.9,504.6 L353.2,504.6 L353.5,504.6 L353.9,504.7 L354.2,504.7 L354.5,504.8 L354.8,504.7 L355.1,504.7 L355.5,504.7 L355.8,504.6 L356.1,504.7 L356.4,504.6 L356.7,504.6 L357.1,504.7 L357.4,504.7 L357.7,504.7 L358.0,504.8 L358.3,504.8 L358.7,504.9 L359.0,504.8 L359.3,504.8 L359.6,504.8 L359.9,504.7 L360.3,504.8 L360.6,504.8 L360.9,504.8 L361.2,504.8 L361.5,504.8 L361.9,504.8 L362.2,504.8 L362.5,504.7 L362.8,504.7 L363.1,504.7 L363.5,504.7 L363.8,504.7 L364.1,504.6 L364.4,504.7 L364.7,504.6 L365.1,504.7 L365.4,504.7 L365.7,504.7 L366.0,504.8 L366.3,504.7 L366.7,504.7 L367.0,504.7 L367.3,504.6 L367.6,504.6 L367.9,504.7 L368.2,504.7 L368.6,504.8 L368.9,504.8 L369.2,504.8 L369.5,504.7 L369.8,504.7 L370.2,504.7 L370.5,504.6 L370.8,504.6 L371.1,504.6 L371.4,504.7 L371.8,504.8 L372.1,504.9 L372.4,504.8 L372.7,504.8 L373.0,504.8 L373.4,504.8 L373.7,504.8 L374.0,504.8 L374.3,504.8 L374.6,504.7 L375.0,504.7 L375.3,504.7 L375.6,504.7 L375.9,504.7 L376.2,504.7 L376.6,504.8 L376.9,504.8 L377.2,504.7 L377.5,504.7 L377.8,504.7 L378.2,504.8 L378.5,504.7 L378.8,504.7 L379.1,504.8 L379.4,504.8 L379.8,504.8 L380.1,504.8 L380.4,504.8 L380.7,504.8 L381.0,504.8 L381.4,504.8 L381.7,504.8 L382.0,504.9 L382.3,504.8 L382.6,504.9 L383.0,504.9 L383.3,504.9 L383.6,504.9 L383.9,504.8 L384.2,504.8 L384.6,504.7 L384.9,504.7 L385.2,504.6 L385.5,504.6 L385.8,504.6 L386.1,504.7 L386.5,504.7 L386.8,504.7 L387.1,504.7 L387.4,504.7 L387.7,504.8 L388.1,504.8 L388.4,504.8 L388.7,504.8 L389.0,504.8 L389.3,504.8 L389.7,504.8 L390.0,504.7 L390.3,504.7 L390.6,504.8 L390.9,504.8 L391.3,504.8 L391.6,504.8 L391.9,504.7 L392.2,504.7 L392.5,504.8 L392.9,504.8 L393.2,504.8 L393.5,504.7 L393.8,504.7 L394.1,504.7 L394.5,504.8 L394.8,504.8 L395.1,504.8 L395.4,504.8 L395.7,504.7 L396.1,504.7 L396.4,504.8 L396.7,504.8 L397.0,504.8 L397.3,504.9 L397.7,504.8 L398.0,504.8 L398.3,504.8 L398.6,504.7 L398.9,504.7 L399.3,504.7 L399.6,504.8 L399.9,504.8 L400.2,504.8 L400.5,504.8 L400.9,504.7 L401.2,504.8 L401.5,504.8 L401.8,504.8 L402.1,504.8 L402.5,504.7 L402.8,504.7 L403.1,504.7 L403.4,504.7 L403.7,504.7 L404.1,504.8 L404.4,504.8 L404.7,504.8 L405.0,504.8 L405.3,504.8 L405.6,504.9 L406.0,504.8 L406.3,504.9 L406.6,504.8 L406.9,504.8 L407.2,504.7 L407.6,504.7 L407.9,504.8 L408.2,504.8 L408.5,504.9 L408.8,504.9 L409.2,504.9 L409.5,504.9 L409.8,504.8 L410.1,504.8 L410.4,504.7 L410.8,504.7 L411.1,504.7 L411.4,504.7 L411.7,504.8 L412.0,504.8 L412.4,504.8 L412.7,504.9 L413.0,504.8 L413.3,504.8 L413.6,504.8 L414.0,504.8 L414.3,504.9 L414.6,504.8 L414.9,504.8 L415.2,504.8 L415.6,504.8 L415.9,504.9 L416.2,504.9 L416.5,504.8 L416.8,504.8 L417.2,504.8 L417.5,504.8 L417.8,504.9 L418.1,504.9 L418.4,504.9 L418.8,504.8 L419.1,504.7 L419.4,504.7 L419.7,504.8 L420.0,504.8 L420.4,504.9 L420.7,504.9 L421.0,504.9 L421.3,504.9 L421.6,504.9 L422.0,504.9 L422.3,504.9 L422.6,504.9 L422.9,504.9 L423.2,504.9 L423.6,504.9 L423.9,504.8 L424.2,504.8 L424.5,504.8 L424.8,504.8 L425.1,504.8 L425.5,504.9 L425.8,504.8 L426.1,504.8 L426.4,504.8 L426.7,504.7 L427.1,504.8 L427.4,504.7 L427.7,504.7 L428.0,504.8 L428.3,504.7 L428.7,504.7 L429.0,504.6 L429.3,504.5 L429.6,504.4 L429.9,504.1 L430.3,503.9 L430.6,503.7 L430.9,503.5 L431.2,503.5 L431.5,503.6 L431.9,503.8 L432.2,504.0 L432.5,504.2 L432.8,504.4 L433.1,504.5 L433.5,504.6 L433.8,504.7 L434.1,504.7 L434.4,504.7 L434.7,504.8 L435.1,504.8 L435.4,504.7 L435.7,504.8 L436.0,504.8 L436.3,504.8 L436.7,504.8 L437.0,504.8 L437.3,504.8 L437.6,504.9 L437.9,504.9 L438.3,504.8 L438.6,504.9 L438.9,504.8 L439.2,504.9 L439.5,504.9 L439.9,504.9 L440.2,504.8 L440.5,504.8 L440.8,504.9 L441.1,505.0 L441.5,504.9 L441.8,504.9 L442.1,504.9 L442.4,504.8 L442.7,504.8 L443.1,504.9 L443.4,504.8 L443.7,504.7 L444.0,504.7 L444.3,504.8 L444.6,504.8 L445.0,504.8 L445.3,504.8 L445.6,504.8 L445.9,504.8 L446.2,504.8 L446.6,504.8 L446.9,504.8 L447.2,504.8 L447.5,504.9 L447.8,505.0 L448.2,504.9 L448.5,504.9 L448.8,504.9 L449.1,504.9 L449.4,504.9 L449.8,504.8 L450.1,504.8 L450.4,504.8 L450.7,504.8 L451.0,504.8 L451.4,504.8 L451.7,504.8 L452.0,504.8 L452.3,504.9 L452.6,504.8 L453.0,504.8 L453.3,504.8 L453.6,504.8 L453.9,504.8 L454.2,504.9 L454.6,504.9 L454.9,504.9 L455.2,504.9 L455.5,504.9 L455.8,504.8 L456.2,504.8 L456.5,504.8 L456.8,504.8 L457.1,504.9 L457.4,504.9 L457.8,504.9 L458.1,505.0 L458.4,504.9 L458.7,504.9 L459.0,504.8 L459.4,504.8 L459.7,504.8 L460.0,504.8 L460.3,504.8 L460.6,504.8 L461.0,504.8 L461.3,504.9 L461.6,504.9 L461.9,504.8 L462.2,504.8 L462.6,504.7 L462.9,504.7 L463.2,504.8 L463.5,504.8 L463.8,504.8 L464.1,504.9 L464.5,504.9 L464.8,504.9 L465.1,505.0 L465.4,505.0 L465.7,504.9 L466.1,504.9 L466.4,504.9 L466.7,504.9 L467.0,504.9 L467.3,504.9 L467.7,504.9 L468.0,504.9 L468.3,504.8 L468.6,504.8 L468.9,504.9 L469.3,504.9 L469.6,504.9 L469.9,504.9 L470.2,504.9 L470.5,504.9 L470.9,504.9 L471.2,504.9 L471.5,504.9 L471.8,504.9 L472.1,504.9 L472.5,504.9 L472.8,504.8 L473.1,504.9 L473.4,504.9 L473.7,504.9 L474.1,504.9 L474.4,504.9 L474.7,504.9 L475.0,504.9 L475.3,504.9 L475.7,504.9 L476.0,504.9 L476.3,504.9 L476.6,504.9 L476.9,504.9 L477.3,504.9 L477.6,505.0 L477.9,505.0 L478.2,504.9 L478.5,504.9 L478.9,504.8 L479.2,504.8 L479.5,504.8 L479.8,504.9 L480.1,504.9 L480.5,504.9 L480.8,504.8 L481.1,504.8 L481.4,504.8 L481.7,504.8 L482.0,504.8 L482.4,504.9 L482.7,504.9 L483.0,504.9 L483.3,504.9 L483.6,504.9 L484.0,504.9 L484.3,505.0 L484.6,504.9 L484.9,505.0 L485.2,505.0 L485.6,504.9 L485.9,504.8 L486.2,504.8 L486.5,504.9 L486.8,504.9 L487.2,504.9 L487.5,504.9 L487.8,504.9 L488.1,504.9 L488.4,504.9 L488.8,504.9 L489.1,504.9 L489.4,505.0 L489.7,505.0 L490.0,505.0 L490.4,504.8 L490.7,504.8 L491.0,504.8 L491.3,504.7 L491.6,504.7 L492.0,504.8 L492.3,504.8 L492.6,504.8 L492.9,504.8 L493.2,504.9 L493.6,504.9 L493.9,504.9 L494.2,504.9 L494.5,504.9 L494.8,504.9 L495.2,504.8 L495.5,504.8 L495.8,504.8 L496.1,504.8 L496.4,504.9 L496.8,504.9 L497.1,504.8 L497.4,504.8 L497.7,504.8 L498.0,504.9 L498.4,504.9 L498.7,504.9 L499.0,504.9 L499.3,504.8 L499.6,504.9 L500.0,504.9 L500.3,504.9 L500.6,504.9 L500.9,504.9 L501.2,504.9 L501.5,504.8 L501.9,504.8 L502.2,504.8 L502.5,504.8 L502.8,504.8 L503.1,504.9 L503.5,504.9 L503.8,504.8 L504.1,504.8 L504.4,504.9 L504.7,504.9 L505.1,504.9 L505.4,504.8 L505.7,504.9 L506.0,504.8 L506.3,504.9 L506.7,504.9 L507.0,504.9 L507.3,504.9 L507.6,504.9 L507.9,504.9 L508.3,504.9 L508.6,504.8 L508.9,504.8 L509.2,504.8 L509.5,504.8 L509.9,504.7 L510.2,504.7 L510.5,504.7 L510.8,504.7 L511.1,504.6 L511.5,504.6 L511.8,504.5 L512.1,504.3 L512.4,504.0 L512.7,503.7 L513.1,503.5 L513.4,503.2 L513.7,502.9 L514.0,502.6 L514.3,502.4 L514.7,502.2 L515.0,502.2 L515.3,502.4 L515.6,502.5 L515.9,502.8 L516.3,503.1 L516.6,503.4 L516.9,503.8 L517.2,504.0 L517.5,504.3 L517.9,504.4 L518.2,504.5 L518.5,504.5 L518.8,504.5 L519.1,504.5 L519.5,504.4 L519.8,504.4 L520.1,504.3 L520.4,504.1 L520.7,504.0 L521.0,503.9 L521.4,503.9 L521.7,504.0 L522.0,504.2 L522.3,504.3 L522.6,504.5 L523.0,504.6 L523.3,504.7 L523.6,504.7 L523.9,504.7 L524.2,504.7 L524.6,504.5 L524.9,504.4 L525.2,504.1 L525.5,503.8 L525.8,503.5 L526.2,503.2 L526.5,503.0 L526.8,503.0 L527.1,503.1 L527.4,503.3 L527.8,503.5 L528.1,503.9 L528.4,504.1 L528.7,504.4 L529.0,504.6 L529.4,504.6 L529.7,504.7 L530.0,504.8"/>
<path class="cw" d="M50.5,437.1 L50.8,437.1 L51.1,437.2 L51.5,437.2 L51.8,437.3 L52.1,437.4 L52.4,437.3 L52.7,437.3 L53.1,437.2 L53.4,437.2 L53.7,437.3 L54.0,437.3 L54.3,437.3 L54.7,437.3 L55.0,437.3 L55.3,437.2 L55.6,437.2 L55.9,437.2 L56.3,437.2 L56.6,437.3 L56.9,437.4 L57.2,437.4 L57.5,437.4 L57.9,437.4 L58.2,437.3 L58.5,437.4 L58.8,437.3 L59.1,437.3 L59.5,437.3 L59.8,437.3 L60.1,437.3 L60.4,437.4 L60.7,437.4 L61.0,437.3 L61.4,437.3 L61.7,437.3 L62.0,437.3 L62.3,437.4 L62.6,437.5 L63.0,437.6 L63.3,437.6 L63.6,437.5 L63.9,437.5 L64.2,437.4 L64.6,437.5 L64.9,437.5 L65.2,437.5 L65.5,437.6 L65.8,437.6 L66.2,437.5 L66.5,437.6 L66.8,437.5 L67.1,437.5 L67.4,437.5 L67.8,437.6 L68.1,437.7 L68.4,437.7 L68.7,437.8 L69.0,437.8 L69.4,437.7 L69.7,437.8 L70.0,437.8 L70.3,437.9 L70.6,437.8 L71.0,437.8 L71.3,437.8 L71.6,437.8 L71.9,437.8 L72.2,437.8 L72.6,437.8 L72.9,437.8 L73.2,437.8 L73.5,437.8 L73.8,437.8 L74.2,437.7 L74.5,437.7 L74.8,437.8 L75.1,437.8 L75.4,437.8 L75.8,437.8 L76.1,437.8 L76.4,437.9 L76.7,437.9 L77.0,437.8 L77.4,437.8 L77.7,437.8 L78.0,437.9 L78.3,437.9 L78.6,437.9 L79.0,438.0 L79.3,438.0 L79.6,437.9 L79.9,438.0 L80.2,438.0 L80.5,437.9 L80.9,438.0 L81.2,438.1 L81.5,438.1 L81.8,438.1 L82.1,438.2 L82.5,438.1 L82.8,438.2 L83.1,438.2 L83.4,438.1 L83.7,438.1 L84.1,438.1 L84.4,438.1 L84.7,438.2 L85.0,438.3 L85.3,438.2 L85.7,438.1 L86.0,438.1 L86.3,438.1 L86.6,438.2 L86.9,438.2 L87.3,438.2 L87.6,438.2 L87.9,438.1 L88.2,438.2 L88.5,438.2 L88.9,438.3 L89.2,438.3 L89.5,438.2 L89.8,438.1 L90.1,438.0 L90.5,438.0 L90.8,438.1 L91.1,438.3 L91.4,438.4 L91.7,438.4 L92.1,438.4 L92.4,438.5 L92.7,438.3 L93.0,438.3 L93.3,438.3 L93.7,438.3 L94.0,438.4 L94.3,438.5 L94.6,438.5 L94.9,438.5 L95.3,438.4 L95.6,438.3 L95.9,438.4 L96.2,438.4 L96.5,438.5 L96.9,438.5 L97.2,438.4 L97.5,438.4 L97.8,438.4 L98.1,438.4 L98.4,438.4 L98.8,438.4 L99.1,438.4 L99.4,438.4 L99.7,438.5 L100.0,438.5 L100.4,438.5 L100.7,438.5 L101.0,438.5 L101.3,438.4 L101.6,438.4 L102.0,438.4 L102.3,438.4 L102.6,438.5 L102.9,438.5 L103.2,438.5 L103.6,438.5 L103.9,438.6 L104.2,438.7 L104.5,438.7 L104.8,438.8 L105.2,438.7 L105.5,438.8 L105.8,438.7 L106.1,438.6 L106.4,438.6 L106.8,438.6 L107.1,438.6 L107.4,438.7 L107.7,438.8 L108.0,438.7 L108.4,438.7 L108.7,438.6 L109.0,438.6 L109.3,438.6 L109.6,438.7 L110.0,438.7 L110.3,438.7 L110.6,438.7 L110.9,438.7 L111.2,438.8 L111.6,438.8 L111.9,438.7 L112.2,438.7 L112.5,438.7 L112.8,438.8 L113.2,438.8 L113.5,438.8 L113.8,438.7 L114.1,438.8 L114.4,438.9 L114.8,438.8 L115.1,438.8 L115.4,438.7 L115.7,438.7 L116.0,438.7 L116.4,438.8 L116.7,438.8 L117.0,438.7 L117.3,438.7 L117.6,438.7 L117.9,438.6 L118.3,438.7 L118.6,438.7 L118.9,438.7 L119.2,438.8 L119.5,438.8 L119.9,438.8 L120.2,438.9 L120.5,438.8 L120.8,438.7 L121.1,438.8 L121.5,438.7 L121.8,438.7 L122.1,438.7 L122.4,438.7 L122.7,438.7 L123.1,438.8 L123.4,438.7 L123.7,438.7 L124.0,438.7 L124.3,438.7 L124.7,438.8 L125.0,438.9 L125.3,438.8 L125.6,438.7 L125.9,438.8 L126.3,438.7 L126.6,438.7 L126.9,438.8 L127.2,438.8 L127.5,438.8 L127.9,438.9 L128.2,438.8 L128.5,438.9 L128.8,438.8 L129.1,438.8 L129.5,438.8 L129.8,438.7 L130.1,438.7 L130.4,438.7 L130.7,438.7 L131.1,438.7 L131.4,438.7 L131.7,438.7 L132.0,438.6 L132.3,438.4 L132.7,438.3 L133.0,438.1 L133.3,437.8 L133.6,437.7 L133.9,437.3 L134.3,437.1 L134.6,437.1 L134.9,437.2 L135.2,437.4 L135.5,437.8 L135.9,438.1 L136.2,438.2 L136.5,438.5 L136.8,438.7 L137.1,438.8 L137.4,438.8 L137.8,438.9 L138.1,438.8 L138.4,438.8 L138.7,438.9 L139.0,439.0 L139.4,439.0 L139.7,439.0 L140.0,438.9 L140.3,438.9 L140.6,438.9 L141.0,438.9 L141.3,438.9 L141.6,438.9 L141.9,439.0 L142.2,438.9 L142.6,439.1 L142.9,439.1 L143.2,439.0 L143.5,439.1 L143.8,439.0 L144.2,439.0 L144.5,439.0 L144.8,438.9 L145.1,439.0 L145.4,439.0 L145.8,439.0 L146.1,439.1 L146.4,439.1 L146.7,439.0 L147.0,439.0 L147.4,439.0 L147.7,439.0 L148.0,439.1 L148.3,439.1 L148.6,439.1 L149.0,439.2 L149.3,439.1 L149.6,439.1 L149.9,439.1 L150.2,439.0 L150.6,439.0 L150.9,439.0 L151.2,438.9 L151.5,439.0 L151.8,439.0 L152.2,439.0 L152.5,438.9 L152.8,438.9 L153.1,438.9 L153.4,439.0 L153.8,439.2 L154.1,439.3 L154.4,439.3 L154.7,439.3 L155.0,439.2 L155.4,439.1 L155.7,439.0 L156.0,439.1 L156.3,439.0 L156.6,439.0 L156.9,439.0 L157.3,439.0 L157.6,439.0 L157.9,439.1 L158.2,439.1 L158.5,439.1 L158.9,439.2 L159.2,439.1 L159.5,439.1 L159.8,439.0 L160.1,439.0 L160.5,439.1 L160.8,439.1 L161.1,439.1 L161.4,439.2 L161.7,439.0 L162.1,439.0 L162.4,439.1 L162.7,439.0 L163.0,439.1 L163.3,439.1 L163.7,439.1 L164.0,439.1 L164.3,439.1 L164.6,439.1 L164.9,439.1 L165.3,439.1 L165.6,439.1 L165.9,439.1 L166.2,439.2 L166.5,439.3 L166.9,439.3 L167.2,439.4 L167.5,439.3 L167.8,439.2 L168.1,439.1 L168.5,439.1 L168.8,439.1 L169.1,439.1 L169.4,439.2 L169.7,439.1 L170.1,439.1 L170.4,439.1 L170.7,439.2 L171.0,439.2 L171.3,439.3 L171.7,439.3 L172.0,439.2 L172.3,439.2 L172.6,439.2 L172.9,439.1 L173.3,439.1 L173.6,439.2 L173.9,439.1 L174.2,439.2 L174.5,439.2 L174.9,439.2 L175.2,439.2 L175.5,439.3 L175.8,439.3 L176.1,439.2 L176.4,439.3 L176.8,439.2 L177.1,439.2 L177.4,439.2 L177.7,439.2 L178.0,439.2 L178.4,439.2 L178.7,439.2 L179.0,439.2 L179.3,439.2 L179.6,439.2 L180.0,439.3 L180.3,439.2 L180.6,439.3 L180.9,439.2 L181.2,439.2 L181.6,439.3 L181.9,439.3 L182.2,439.3 L182.5,439.4 L182.8,439.3 L183.2,439.3 L183.5,439.2 L183.8,439.2 L184.1,439.1 L184.4,439.2 L184.8,439.3 L185.1,439.3 L185.4,439.3 L185.7,439.3 L186.0,439.3 L186.4,439.2 L186.7,439.3 L187.0,439.3 L187.3,439.2 L187.6,439.1 L188.0,439.1 L188.3,439.2 L188.6,439.2 L188.9,439.3 L189.2,439.3 L189.6,439.1 L189.9,439.2 L190.2,439.1 L190.5,439.1 L190.8,439.2 L191.2,439.1 L191.5,439.2 L191.8,439.2 L192.1,439.1 L192.4,439.1 L192.8,439.0 L193.1,439.1 L193.4,439.1 L193.7,439.1 L194.0,439.1 L194.3,439.1 L194.7,439.1 L195.0,439.1 L195.3,439.0 L195.6,439.0 L195.9,438.9 L196.3,438.8 L196.6,438.7 L196.9,438.4 L197.2,437.9 L197.5,437.2 L197.9,436.5 L198.2,435.7 L198.5,434.8 L198.8,434.1 L199.1,433.9 L199.5,434.1 L199.8,434.7 L200.1,435.6 L200.4,436.5 L200.7,437.3 L201.1,437.9 L201.4,438.4 L201.7,438.6 L202.0,438.8 L202.3,438.9 L202.7,439.0 L203.0,439.0 L203.3,439.1 L203.6,439.2 L203.9,439.2 L204.3,439.3 L204.6,439.2 L204.9,439.2 L205.2,439.2 L205.5,439.2 L205.9,439.2 L206.2,439.2 L206.5,439.2 L206.8,439.3 L207.1,439.2 L207.5,439.2 L207.8,439.2 L208.1,439.2 L208.4,439.3 L208.7,439.2 L209.1,439.2 L209.4,439.2 L209.7,439.1 L210.0,439.1 L210.3,439.2 L210.7,439.1 L211.0,439.1 L211.3,439.1 L211.6,439.1 L211.9,439.2 L212.3,439.2 L212.6,439.2 L212.9,439.1 L213.2,439.1 L213.5,439.2 L213.8,439.1 L214.2,439.2 L214.5,439.2 L214.8,439.1 L215.1,439.1 L215.4,439.1 L215.8,439.2 L216.1,439.2 L216.4,439.3 L216.7,439.3 L217.0,439.2 L217.4,439.2 L217.7,439.2 L218.0,439.2 L218.3,439.2 L218.6,439.2 L219.0,439.2 L219.3,439.2 L219.6,439.3 L219.9,439.2 L220.2,439.2 L220.6,439.2 L220.9,439.1 L221.2,439.1 L221.5,439.1 L221.8,439.1 L222.2,439.0 L222.5,438.8 L222.8,438.5 L223.1,438.1 L223.4,437.6 L223.8,437.0 L224.1,436.1 L224.4,435.3 L224.7,434.6 L225.0,434.2 L225.4,434.6 L225.7,435.3 L226.0,436.2 L226.3,437.1 L226.6,437.8 L227.0,438.3 L227.3,438.6 L227.6,438.9 L227.9,439.0 L228.2,439.0 L228.6,439.2 L228.9,439.1 L229.2,439.3 L229.5,439.3 L229.8,439.2 L230.2,439.3 L230.5,439.2 L230.8,439.2 L231.1,439.2 L231.4,439.2 L231.8,439.3 L232.1,439.3 L232.4,439.3 L232.7,439.3 L233.0,439.2 L233.3,439.2 L233.7,439.1 L234.0,439.1 L234.3,439.2 L234.6,439.2 L234.9,439.3 L235.3,439.4 L235.6,439.3 L235.9,439.3 L236.2,439.3 L236.5,439.3 L236.9,439.3 L237.2,439.3 L237.5,439.3 L237.8,439.3 L238.1,439.4 L238.5,439.3 L238.8,439.4 L239.1,439.5 L239.4,439.4 L239.7,439.5 L240.1,439.4 L240.4,439.4 L240.7,439.3 L241.0,439.3 L241.3,439.3 L241.7,439.2 L242.0,439.2 L242.3,439.2 L242.6,439.2 L242.9,439.3 L243.3,439.3 L243.6,439.3 L243.9,439.3 L244.2,439.3 L244.5,439.4 L244.9,439.5 L245.2,439.4 L245.5,439.4 L245.8,439.4 L246.1,439.4 L246.5,439.3 L246.8,439.3 L247.1,439.3 L247.4,439.2 L247.7,439.3 L248.1,439.2 L248.4,439.1 L248.7,439.1 L249.0,439.0 L249.3,438.9 L249.7,438.8 L250.0,438.7 L250.3,438.7 L250.6,438.5 L250.9,438.3 L251.3,438.1 L251.6,437.4 L251.9,436.4 L252.2,435.0 L252.5,433.1 L252.8,430.8 L253.2,428.4 L253.5,426.5 L253.8,425.6 L254.1,426.3 L254.4,428.2 L254.8,430.5 L255.1,432.9 L255.4,434.9 L255.7,436.3 L256.0,437.3 L256.4,438.0 L256.7,438.4 L257.0,438.7 L257.3,438.9 L257.6,439.0 L258.0,439.1 L258.3,439.1 L258.6,439.1 L258.9,439.1 L259.2,439.1 L259.6,439.1 L259.9,439.1 L260.2,439.2 L260.5,439.3 L260.8,439.3 L261.2,439.3 L261.5,439.3 L261.8,439.4 L262.1,439.4 L262.4,439.4 L262.8,439.4 L263.1,439.3 L263.4,439.3 L263.7,439.3 L264.0,439.3 L264.4,439.4 L264.7,439.4 L265.0,439.4 L265.3,439.4 L265.6,439.3 L266.0,439.3 L266.3,439.3 L266.6,439.4 L266.9,439.5 L267.2,439.4 L267.6,439.4 L267.9,439.4 L268.2,439.4 L268.5,439.4 L268.8,439.4 L269.2,439.4 L269.5,439.4 L269.8,439.4 L270.1,439.4 L270.4,439.3 L270.8,439.3 L271.1,439.3 L271.4,439.3 L271.7,439.4 L272.0,439.5 L272.3,439.5 L272.7,439.5 L273.0,439.5 L273.3,439.5 L273.6,439.5 L273.9,439.4 L274.3,439.5 L274.6,439.5 L274.9,439.6 L275.2,439.6 L275.5,439.6 L275.9,439.6 L276.2,439.4 L276.5,439.5 L276.8,439.5 L277.1,439.5 L277.5,439.6 L277.8,439.5 L278.1,439.5 L278.4,439.5 L278.7,439.5 L279.1,439.4 L279.4,439.4 L279.7,439.5 L280.0,439.5 L280.3,439.6 L280.7,439.6 L281.0,439.5 L281.3,439.6 L281.6,439.5 L281.9,439.5 L282.3,439.6 L282.6,439.6 L282.9,439.6 L283.2,439.5 L283.5,439.5 L283.9,439.4 L284.2,439.4 L284.5,439.4 L284.8,439.4 L285.1,439.4 L285.5,439.4 L285.8,439.3 L286.1,439.4 L286.4,439.4 L286.7,439.4 L287.1,439.4 L287.4,439.4 L287.7,439.3 L288.0,439.3 L288.3,439.3 L288.7,439.2 L289.0,439.2 L289.3,439.2 L289.6,439.2 L289.9,439.1 L290.2,439.2 L290.6,439.1 L290.9,439.0 L291.2,439.0 L291.5,438.9 L291.8,438.9 L292.2,438.8 L292.5,438.8 L292.8,438.8 L293.1,438.7 L293.4,438.6 L293.8,438.5 L294.1,438.3 L294.4,438.1 L294.7,437.9 L295.0,437.8 L295.4,437.6 L295.7,437.4 L296.0,437.0 L296.3,436.3 L296.6,435.3 L297.0,433.2 L297.3,430.0 L297.6,425.0 L297.9,417.8 L298.2,408.7 L298.6,398.6 L298.9,389.4 L299.2,383.7 L299.5,383.8 L299.8,389.5 L300.2,398.8 L300.5,409.0 L300.8,418.1 L301.1,425.4 L301.4,430.5 L301.8,433.8 L302.1,435.8 L302.4,436.9 L302.7,437.6 L303.0,438.0 L303.4,438.2 L303.7,438.4 L304.0,438.6 L304.3,438.7 L304.6,438.9 L305.0,439.0 L305.3,439.1 L305.6,439.1 L305.9,439.1 L306.2,439.2 L306.6,439.4 L306.9,439.4 L307.2,439.4 L307.5,439.4 L307.8,439.4 L308.2,439.3 L308.5,439.3 L308.8,439.3 L309.1,439.3 L309.4,439.3 L309.7,439.3 L310.1,439.2 L310.4,439.2 L310.7,439.2 L311.0,439.2 L311.3,439.2 L311.7,439.2 L312.0,439.2 L312.3,439.1 L312.6,439.0 L312.9,438.9 L313.3,438.7 L313.6,438.6 L313.9,438.3 L314.2,438.0 L314.5,437.4 L314.9,436.2 L315.2,434.2 L315.5,431.2 L315.8,427.1 L316.1,422.2 L316.5,417.2 L316.8,414.0 L317.1,413.9 L317.4,417.2 L317.7,422.3 L318.1,427.3 L318.4,431.4 L318.7,434.3 L319.0,436.2 L319.3,437.2 L319.7,437.9 L320.0,438.4 L320.3,438.7 L320.6,439.0 L320.9,439.1 L321.3,439.2 L321.6,439.2 L321.9,439.2 L322.2,439.3 L322.5,439.3 L322.9,439.4 L323.2,439.5 L323.5,439.7 L323.8,439.8 L324.1,439.7 L324.5,439.7 L324.8,439.6 L325.1,439.5 L325.4,439.6 L325.7,439.7 L326.1,439.7 L326.4,439.7 L326.7,439.7 L327.0,439.7 L327.3,439.7 L327.7,439.8 L328.0,439.8 L328.3,439.8 L328.6,439.8 L328.9,439.8 L329.2,439.7 L329.6,439.6 L329.9,439.5 L330.2,439.5 L330.5,439.5 L330.8,439.3 L331.2,439.3 L331.5,439.1 L331.8,439.0 L332.1,439.1 L332.4,439.2 L332.8,439.3 L333.1,439.4 L333.4,439.6 L333.7,439.7 L334.0,439.8 L334.4,439.8 L334.7,439.7 L335.0,439.7 L335.3,439.8 L335.6,439.7 L336.0,439.7 L336.3,439.6 L336.6,439.5 L336.9,439.5 L337.2,439.2 L337.6,438.9 L337.9,438.6 L338.2,438.4 L338.5,438.6 L338.8,438.7 L339.2,439.0 L339.5,439.0 L339.8,438.9 L340.1,438.7 L340.4,438.3 L340.8,437.8 L341.1,437.1 L341.4,436.4 L341.7,435.7 L342.0,435.3 L342.4,435.3 L342.7,435.6 L343.0,436.4 L343.3,437.1 L343.6,437.9 L344.0,438.5 L344.3,438.9 L344.6,439.3 L344.9,439.5 L345.2,439.6 L345.6,439.7 L345.9,439.7 L346.2,439.8 L346.5,439.9 L346.8,439.9 L347.2,439.8 L347.5,439.8 L347.8,439.8 L348.1,439.8 L348.4,439.9 L348.7,440.0 L349.1,440.0 L349.4,440.1 L349.7,440.0 L350.0,440.0 L350.3,440.0 L350.7,440.0 L351.0,440.0 L351.3,440.0 L351.6,440.0 L351.9,440.0 L352.3,439.9 L352.6,439.9 L352.9,439.9 L353.2,439.9 L353.5,439.9 L353.9,439.9 L354.2,439.8 L354.5,439.8 L354.8,439.8 L355.1,439.8 L355.5,439.9 L355.8,439.9 L356.1,440.0 L356.4,440.1 L356.7,440.0 L357.1,440.1 L357.4,440.0 L357.7,440.0 L358.0,440.0 L358.3,439.9 L358.7,440.0 L359.0,440.0 L359.3,440.0 L359.6,440.1 L359.9,440.0 L360.3,439.9 L360.6,439.9 L360.9,439.8 L361.2,439.9 L361.5,440.0 L361.9,440.1 L362.2,440.1 L362.5,440.0 L362.8,439.9 L363.1,439.9 L363.5,439.9 L363.8,439.9 L364.1,440.0 L364.4,440.0 L364.7,440.0 L365.1,440.0 L365.4,440.0 L365.7,440.0 L366.0,440.0 L366.3,440.0 L366.7,440.1 L367.0,440.0 L367.3,439.9 L367.6,440.0 L367.9,440.0 L368.2,439.9 L368.6,439.9 L368.9,439.9 L369.2,439.8 L369.5,439.9 L369.8,440.1 L370.2,440.0 L370.5,440.1 L370.8,440.0 L371.1,440.0 L371.4,440.0 L371.8,440.0 L372.1,440.0 L372.4,440.0 L372.7,440.0 L373.0,439.9 L373.4,440.0 L373.7,440.1 L374.0,440.0 L374.3,440.0 L374.6,439.9 L375.0,439.9 L375.3,440.0 L375.6,440.0 L375.9,440.0 L376.2,440.1 L376.6,440.0 L376.9,440.0 L377.2,440.0 L377.5,440.0 L377.8,440.0 L378.2,440.1 L378.5,440.0 L378.8,440.0 L379.1,440.1 L379.4,440.0 L379.8,440.0 L380.1,440.0 L380.4,439.9 L380.7,440.0 L381.0,440.0 L381.4,439.9 L381.7,440.1 L382.0,440.0 L382.3,440.0 L382.6,440.1 L383.0,440.0 L383.3,440.1 L383.6,440.1 L383.9,440.1 L384.2,440.1 L384.6,440.2 L384.9,440.1 L385.2,440.1 L385.5,440.1 L385.8,440.1 L386.1,440.1 L386.5,440.0 L386.8,440.0 L387.1,440.0 L387.4,440.0 L387.7,440.0 L388.1,440.0 L388.4,440.0 L388.7,440.0 L389.0,440.1 L389.3,440.0 L389.7,440.0 L390.0,440.0 L390.3,439.9 L390.6,440.0 L390.9,440.1 L391.3,440.1 L391.6,440.1 L391.9,440.1 L392.2,440.1 L392.5,440.1 L392.9,440.1 L393.2,440.1 L393.5,440.1 L393.8,440.1 L394.1,440.2 L394.5,440.1 L394.8,440.2 L395.1,440.2 L395.4,440.1 L395.7,440.2 L396.1,440.1 L396.4,440.1 L396.7,440.1 L397.0,440.0 L397.3,440.1 L397.7,440.1 L398.0,440.1 L398.3,440.1 L398.6,440.1 L398.9,440.1 L399.3,440.0 L399.6,440.0 L399.9,440.0 L400.2,439.9 L400.5,439.9 L400.9,439.9 L401.2,439.9 L401.5,440.0 L401.8,440.0 L402.1,440.0 L402.5,439.9 L402.8,440.0 L403.1,440.0 L403.4,440.0 L403.7,440.1 L404.1,440.1 L404.4,440.1 L404.7,440.2 L405.0,440.2 L405.3,440.2 L405.6,440.2 L406.0,440.1 L406.3,440.1 L406.6,439.9 L406.9,439.9 L407.2,440.0 L407.6,440.0 L407.9,440.1 L408.2,440.2 L408.5,440.2 L408.8,440.2 L409.2,440.1 L409.5,440.1 L409.8,440.0 L410.1,440.0 L410.4,440.1 L410.8,440.1 L411.1,440.2 L411.4,440.2 L411.7,440.1 L412.0,440.1 L412.4,440.0 L412.7,440.0 L413.0,440.0 L413.3,440.1 L413.6,440.0 L414.0,440.0 L414.3,440.1 L414.6,440.0 L414.9,440.1 L415.2,440.1 L415.6,440.0 L415.9,440.0 L416.2,440.1 L416.5,440.1 L416.8,440.1 L417.2,440.1 L417.5,440.1 L417.8,440.2 L418.1,440.2 L418.4,440.2 L418.8,440.2 L419.1,440.1 L419.4,440.1 L419.7,440.1 L420.0,440.2 L420.4,440.3 L420.7,440.2 L421.0,440.3 L421.3,440.3 L421.6,440.3 L422.0,440.2 L422.3,440.1 L422.6,440.1 L422.9,440.0 L423.2,440.0 L423.6,440.1 L423.9,440.0 L424.2,440.0 L424.5,440.0 L424.8,440.0 L425.1,440.0 L425.5,440.0 L425.8,440.0 L426.1,440.1 L426.4,440.1 L426.7,440.1 L427.1,440.1 L427.4,440.1 L427.7,440.1 L428.0,440.1 L428.3,440.1 L428.7,440.0 L429.0,440.1 L429.3,440.1 L429.6,440.1 L429.9,440.1 L430.3,440.1 L430.6,439.9 L430.9,439.9 L431.2,439.9 L431.5,439.9 L431.9,440.0 L432.2,439.9 L432.5,439.9 L432.8,439.9 L433.1,439.9 L433.5,439.9 L433.8,440.0 L434.1,440.0 L434.4,440.0 L434.7,440.1 L435.1,440.0 L435.4,440.0 L435.7,440.0 L436.0,440.0 L436.3,440.0 L436.7,440.1 L437.0,440.1 L437.3,440.1 L437.6,440.1 L437.9,440.2 L438.3,440.1 L438.6,440.1 L438.9,440.0 L439.2,439.9 L439.5,439.9 L439.9,439.9 L440.2,439.9 L440.5,440.0 L440.8,440.0 L441.1,440.0 L441.5,440.1 L441.8,440.1 L442.1,440.1 L442.4,440.2 L442.7,440.2 L443.1,440.2 L443.4,440.1 L443.7,440.1 L444.0,440.1 L444.3,440.1 L444.6,440.1 L445.0,440.1 L445.3,440.2 L445.6,440.3 L445.9,440.3 L446.2,440.3 L446.6,440.3 L446.9,440.2 L447.2,440.0 L447.5,440.1 L447.8,440.0 L448.2,439.9 L448.5,440.0 L448.8,439.8 L449.1,439.9 L449.4,440.0 L449.8,440.0 L450.1,440.1 L450.4,440.2 L450.7,440.2 L451.0,440.1 L451.4,440.1 L451.7,440.1 L452.0,440.1 L452.3,440.2 L452.6,440.1 L453.0,440.2 L453.3,440.2 L453.6,440.2 L453.9,440.3 L454.2,440.2 L454.6,440.1 L454.9,440.0 L455.2,439.9 L455.5,439.9 L455.8,440.0 L456.2,440.1 L456.5,440.1 L456.8,440.3 L457.1,440.3 L457.4,440.1 L457.8,440.1 L458.1,440.0 L458.4,440.0 L458.7,440.1 L459.0,440.2 L459.4,440.2 L459.7,440.2 L460.0,440.0 L460.3,440.0 L460.6,440.0 L461.0,440.1 L461.3,440.2 L461.6,440.2 L461.9,440.2 L462.2,440.2 L462.6,440.1 L462.9,440.1 L463.2,440.1 L463.5,440.2 L463.8,440.2 L464.1,440.2 L464.5,440.2 L464.8,440.1 L465.1,440.2 L465.4,440.2 L465.7,440.3 L466.1,440.2 L466.4,440.1 L466.7,440.1 L467.0,439.9 L467.3,440.0 L467.7,440.0 L468.0,440.0 L468.3,440.0 L468.6,440.0 L468.9,440.0 L469.3,440.0 L469.6,440.1 L469.9,440.0 L470.2,440.1 L470.5,440.1 L470.9,440.1 L471.2,440.2 L471.5,440.2 L471.8,440.1 L472.1,440.1 L472.5,440.0 L472.8,439.9 L473.1,439.8 L473.4,439.6 L473.7,439.5 L474.1,439.2 L474.4,438.9 L474.7,438.7 L475.0,438.6 L475.3,438.8 L475.7,438.9 L476.0,439.2 L476.3,439.5 L476.6,439.7 L476.9,439.9 L477.3,440.1 L477.6,440.1 L477.9,440.1 L478.2,440.1 L478.5,440.1 L478.9,440.1 L479.2,440.0 L479.5,440.1 L479.8,440.1 L480.1,440.1 L480.5,440.0 L480.8,440.1 L481.1,440.2 L481.4,440.1 L481.7,440.1 L482.0,440.0 L482.4,440.1 L482.7,440.1 L483.0,440.2 L483.3,440.3 L483.6,440.2 L484.0,440.2 L484.3,440.1 L484.6,440.0 L484.9,440.1 L485.2,440.0 L485.6,440.1 L485.9,440.1 L486.2,440.1 L486.5,440.2 L486.8,440.1 L487.2,440.1 L487.5,440.0 L487.8,440.1 L488.1,440.1 L488.4,440.2 L488.8,440.2 L489.1,440.1 L489.4,440.2 L489.7,440.1 L490.0,440.1 L490.4,440.1 L490.7,440.1 L491.0,440.1 L491.3,440.1 L491.6,440.2 L492.0,440.2 L492.3,440.2 L492.6,440.2 L492.9,440.2 L493.2,440.1 L493.6,440.1 L493.9,440.1 L494.2,440.1 L494.5,440.1 L494.8,440.1 L495.2,440.1 L495.5,440.2 L495.8,440.1 L496.1,440.2 L496.4,440.2 L496.8,440.1 L497.1,440.1 L497.4,440.1 L497.7,440.1 L498.0,440.1 L498.4,440.1 L498.7,440.1 L499.0,440.1 L499.3,440.1 L499.6,440.1 L500.0,440.1 L500.3,440.1 L500.6,440.2 L500.9,440.2 L501.2,440.2 L501.5,440.1 L501.9,440.1 L502.2,440.0 L502.5,440.1 L502.8,440.1 L503.1,440.1 L503.5,440.2 L503.8,440.2 L504.1,440.1 L504.4,440.2 L504.7,440.1 L505.1,440.2 L505.4,440.1 L505.7,440.1 L506.0,440.1 L506.3,440.1 L506.7,440.3 L507.0,440.3 L507.3,440.3 L507.6,440.3 L507.9,440.3 L508.3,440.2 L508.6,440.2 L508.9,440.1 L509.2,440.2 L509.5,440.1 L509.9,440.1 L510.2,440.1 L510.5,440.0 L510.8,439.9 L511.1,440.1 L511.5,440.1 L511.8,440.1 L512.1,440.0 L512.4,439.9 L512.7,439.6 L513.1,439.5 L513.4,439.4 L513.7,439.1 L514.0,439.0 L514.3,439.0 L514.7,438.8 L515.0,438.9 L515.3,439.0 L515.6,439.1 L515.9,439.3 L516.3,439.5 L516.6,439.5 L516.9,439.7 L517.2,439.7 L517.5,439.7 L517.9,439.9 L518.2,439.9 L518.5,439.9 L518.8,440.0 L519.1,440.0 L519.5,439.9 L519.8,439.8 L520.1,439.8 L520.4,439.6 L520.7,439.5 L521.0,439.5 L521.4,439.5 L521.7,439.6 L522.0,439.6 L522.3,439.7 L522.6,439.9 L523.0,439.9 L523.3,440.0 L523.6,440.0 L523.9,440.0 L524.2,440.0 L524.6,439.9 L524.9,439.8 L525.2,439.7 L525.5,439.6 L525.8,439.5 L526.2,439.3 L526.5,439.2 L526.8,439.2 L527.1,439.2 L527.4,439.4 L527.8,439.5 L528.1,439.7 L528.4,439.9 L528.7,440.1 L529.0,440.1 L529.4,440.2 L529.7,440.1 L530.0,440.1"/>
<path class="cw" d="M50.5,370.5 L50.8,370.5 L51.1,370.6 L51.5,370.6 L51.8,370.6 L52.1,370.7 L52.4,370.6 L52.7,370.6 L53.1,370.6 L53.4,370.6 L53.7,370.7 L54.0,370.7 L54.3,370.7 L54.7,370.7 L55.0,370.7 L55.3,370.7 L55.6,370.7 L55.9,370.7 L56.3,370.6 L56.6,370.7 L56.9,370.7 L57.2,370.6 L57.5,370.7 L57.9,370.7 L58.2,370.7 L58.5,370.7 L58.8,370.6 L59.1,370.7 L59.5,370.7 L59.8,370.7 L60.1,370.8 L60.4,370.8 L60.7,370.7 L61.0,370.8 L61.4,370.6 L61.7,370.6 L62.0,370.7 L62.3,370.6 L62.6,370.7 L63.0,370.7 L63.3,370.7 L63.6,370.7 L63.9,370.7 L64.2,370.7 L64.6,370.7 L64.9,370.7 L65.2,370.8 L65.5,370.8 L65.8,370.9 L66.2,370.9 L66.5,370.9 L66.8,370.9 L67.1,370.9 L67.4,370.8 L67.8,370.8 L68.1,370.7 L68.4,370.7 L68.7,370.6 L69.0,370.6 L69.4,370.7 L69.7,370.7 L70.0,370.9 L70.3,371.0 L70.6,371.0 L71.0,370.9 L71.3,370.9 L71.6,370.8 L71.9,370.8 L72.2,370.9 L72.6,370.9 L72.9,371.0 L73.2,371.0 L73.5,371.0 L73.8,370.9 L74.2,371.0 L74.5,370.9 L74.8,370.9 L75.1,370.9 L75.4,370.8 L75.8,370.8 L76.1,370.9 L76.4,370.9 L76.7,371.0 L77.0,371.0 L77.4,371.0 L77.7,371.0 L78.0,370.9 L78.3,371.0 L78.6,371.0 L79.0,371.0 L79.3,371.0 L79.6,371.0 L79.9,371.0 L80.2,371.0 L80.5,371.0 L80.9,371.1 L81.2,371.1 L81.5,371.1 L81.8,371.0 L82.1,371.0 L82.5,371.0 L82.8,371.1 L83.1,371.1 L83.4,371.1 L83.7,371.0 L84.1,370.9 L84.4,371.0 L84.7,371.0 L85.0,371.1 L85.3,371.1 L85.7,371.2 L86.0,371.2 L86.3,371.2 L86.6,371.1 L86.9,371.1 L87.3,371.0 L87.6,371.0 L87.9,371.0 L88.2,371.1 L88.5,371.1 L88.9,371.1 L89.2,371.1 L89.5,371.1 L89.8,371.1 L90.1,371.2 L90.5,371.3 L90.8,371.3 L91.1,371.2 L91.4,371.1 L91.7,371.1 L92.1,371.1 L92.4,371.1 L92.7,371.1 L93.0,371.1 L93.3,371.2 L93.7,371.2 L94.0,371.3 L94.3,371.3 L94.6,371.2 L94.9,371.2 L95.3,371.1 L95.6,371.2 L95.9,371.2 L96.2,371.2 L96.5,371.3 L96.9,371.3 L97.2,371.3 L97.5,371.2 L97.8,371.2 L98.1,371.2 L98.4,371.2 L98.8,371.3 L99.1,371.4 L99.4,371.4 L99.7,371.4 L100.0,371.3 L100.4,371.3 L100.7,371.2 L101.0,371.2 L101.3,371.2 L101.6,371.3 L102.0,371.3 L102.3,371.3 L102.6,371.3 L102.9,371.3 L103.2,371.2 L103.6,371.3 L103.9,371.3 L104.2,371.3 L104.5,371.5 L104.8,371.4 L105.2,371.4 L105.5,371.4 L105.8,371.3 L106.1,371.2 L106.4,371.3 L106.8,371.3 L107.1,371.3 L107.4,371.4 L107.7,371.3 L108.0,371.4 L108.4,371.4 L108.7,371.4 L109.0,371.4 L109.3,371.3 L109.6,371.4 L110.0,371.4 L110.3,371.4 L110.6,371.4 L110.9,371.4 L111.2,371.4 L111.6,371.4 L111.9,371.5 L112.2,371.6 L112.5,371.6 L112.8,371.6 L113.2,371.6 L113.5,371.6 L113.8,371.6 L114.1,371.6 L114.4,371.5 L114.8,371.5 L115.1,371.6 L115.4,371.6 L115.7,371.6 L116.0,371.7 L116.4,371.6 L116.7,371.5 L117.0,371.5 L117.3,371.5 L117.6,371.6 L117.9,371.7 L118.3,371.7 L118.6,371.7 L118.9,371.7 L119.2,371.7 L119.5,371.7 L119.9,371.6 L120.2,371.6 L120.5,371.7 L120.8,371.7 L121.1,371.7 L121.5,371.6 L121.8,371.6 L122.1,371.5 L122.4,371.6 L122.7,371.6 L123.1,371.5 L123.4,371.6 L123.7,371.6 L124.0,371.7 L124.3,371.7 L124.7,371.8 L125.0,371.8 L125.3,371.8 L125.6,371.7 L125.9,371.7 L126.3,371.7 L126.6,371.7 L126.9,371.7 L127.2,371.6 L127.5,371.6 L127.9,371.6 L128.2,371.6 L128.5,371.7 L128.8,371.7 L129.1,371.8 L129.5,371.6 L129.8,371.7 L130.1,371.6 L130.4,371.7 L130.7,371.7 L131.1,371.6 L131.4,371.5 L131.7,371.5 L132.0,371.5 L132.3,371.4 L132.7,371.2 L133.0,371.0 L133.3,370.5 L133.6,370.1 L133.9,369.7 L134.3,369.5 L134.6,369.6 L134.9,369.8 L135.2,370.1 L135.5,370.5 L135.9,370.8 L136.2,371.0 L136.5,371.4 L136.8,371.6 L137.1,371.7 L137.4,371.8 L137.8,371.7 L138.1,371.8 L138.4,371.7 L138.7,371.7 L139.0,371.8 L139.4,371.8 L139.7,371.8 L140.0,371.9 L140.3,371.9 L140.6,371.8 L141.0,371.7 L141.3,371.8 L141.6,371.8 L141.9,371.8 L142.2,371.9 L142.6,371.8 L142.9,371.8 L143.2,371.8 L143.5,371.8 L143.8,371.8 L144.2,371.8 L144.5,371.8 L144.8,371.8 L145.1,371.8 L145.4,371.8 L145.8,371.8 L146.1,371.8 L146.4,371.9 L146.7,371.9 L147.0,371.9 L147.4,371.9 L147.7,371.9 L148.0,371.9 L148.3,371.9 L148.6,371.9 L149.0,371.9 L149.3,371.8 L149.6,371.8 L149.9,371.8 L150.2,371.7 L150.6,371.8 L150.9,371.8 L151.2,371.7 L151.5,371.8 L151.8,371.8 L152.2,371.8 L152.5,371.9 L152.8,371.9 L153.1,371.8 L153.4,371.8 L153.8,371.8 L154.1,371.8 L154.4,371.8 L154.7,371.9 L155.0,371.9 L155.4,371.8 L155.7,371.9 L156.0,371.9 L156.3,371.8 L156.6,371.7 L156.9,371.7 L157.3,371.7 L157.6,371.8 L157.9,371.9 L158.2,371.9 L158.5,371.9 L158.9,371.9 L159.2,371.9 L159.5,371.8 L159.8,371.7 L160.1,371.8 L160.5,371.7 L160.8,371.8 L161.1,371.8 L161.4,371.8 L161.7,371.8 L162.1,371.8 L162.4,371.8 L162.7,371.9 L163.0,371.9 L163.3,371.9 L163.7,371.9 L164.0,371.8 L164.3,371.8 L164.6,371.8 L164.9,371.8 L165.3,371.8 L165.6,371.8 L165.9,371.9 L166.2,371.9 L166.5,371.8 L166.9,371.8 L167.2,371.9 L167.5,371.9 L167.8,372.0 L168.1,372.0 L168.5,372.0 L168.8,372.0 L169.1,372.0 L169.4,372.0 L169.7,372.0 L170.1,371.9 L170.4,371.9 L170.7,372.0 L171.0,372.0 L171.3,372.0 L171.7,371.9 L172.0,371.8 L172.3,371.8 L172.6,371.9 L172.9,371.9 L173.3,371.9 L173.6,371.8 L173.9,371.8 L174.2,371.8 L174.5,371.8 L174.9,371.9 L175.2,371.9 L175.5,371.9 L175.8,371.9 L176.1,371.9 L176.4,372.0 L176.8,371.9 L177.1,371.9 L177.4,371.9 L177.7,371.9 L178.0,372.0 L178.4,371.9 L178.7,371.9 L179.0,371.9 L179.3,371.9 L179.6,371.9 L180.0,371.9 L180.3,371.9 L180.6,371.9 L180.9,371.9 L181.2,371.9 L181.6,371.9 L181.9,371.9 L182.2,371.8 L182.5,371.9 L182.8,371.9 L183.2,371.9 L183.5,371.8 L183.8,371.9 L184.1,371.9 L184.4,371.9 L184.8,372.0 L185.1,371.9 L185.4,371.9 L185.7,372.0 L186.0,372.0 L186.4,371.9 L186.7,371.9 L187.0,371.9 L187.3,371.9 L187.6,371.9 L188.0,371.9 L188.3,371.9 L188.6,371.9 L188.9,371.8 L189.2,371.8 L189.6,371.8 L189.9,371.8 L190.2,371.8 L190.5,371.8 L190.8,371.7 L191.2,371.7 L191.5,371.7 L191.8,371.7 L192.1,371.8 L192.4,371.8 L192.8,371.8 L193.1,371.8 L193.4,371.9 L193.7,371.9 L194.0,371.9 L194.3,371.8 L194.7,371.7 L195.0,371.7 L195.3,371.7 L195.6,371.6 L195.9,371.5 L196.3,371.4 L196.6,371.2 L196.9,370.9 L197.2,370.4 L197.5,369.7 L197.9,368.8 L198.2,367.6 L198.5,366.4 L198.8,365.5 L199.1,365.2 L199.5,365.5 L199.8,366.4 L200.1,367.5 L200.4,368.6 L200.7,369.6 L201.1,370.3 L201.4,370.8 L201.7,371.2 L202.0,371.4 L202.3,371.4 L202.7,371.5 L203.0,371.6 L203.3,371.8 L203.6,371.9 L203.9,371.9 L204.3,372.0 L204.6,371.9 L204.9,371.9 L205.2,371.9 L205.5,371.9 L205.9,371.9 L206.2,371.9 L206.5,372.0 L206.8,372.0 L207.1,371.9 L207.5,371.9 L207.8,371.8 L208.1,371.8 L208.4,372.0 L208.7,372.0 L209.1,372.0 L209.4,372.0 L209.7,371.9 L210.0,371.9 L210.3,371.9 L210.7,371.9 L211.0,372.0 L211.3,372.1 L211.6,372.1 L211.9,372.0 L212.3,371.9 L212.6,371.9 L212.9,372.0 L213.2,372.0 L213.5,372.0 L213.8,372.0 L214.2,372.0 L214.5,372.0 L214.8,372.0 L215.1,372.0 L215.4,372.1 L215.8,372.1 L216.1,372.1 L216.4,372.1 L216.7,372.0 L217.0,372.0 L217.4,372.0 L217.7,372.0 L218.0,372.0 L218.3,372.0 L218.6,372.0 L219.0,372.0 L219.3,372.1 L219.6,372.1 L219.9,372.1 L220.2,372.0 L220.6,372.0 L220.9,371.9 L221.2,371.9 L221.5,371.9 L221.8,372.0 L222.2,372.1 L222.5,372.0 L222.8,372.0 L223.1,371.9 L223.4,371.9 L223.8,371.9 L224.1,372.0 L224.4,372.0 L224.7,372.0 L225.0,372.0 L225.4,371.9 L225.7,371.9 L226.0,372.0 L226.3,372.0 L226.6,372.1 L227.0,372.0 L227.3,372.1 L227.6,372.1 L227.9,372.0 L228.2,372.0 L228.6,372.0 L228.9,372.0 L229.2,372.0 L229.5,372.0 L229.8,372.0 L230.2,372.0 L230.5,372.0 L230.8,371.9 L231.1,371.9 L231.4,371.9 L231.8,371.9 L232.1,372.1 L232.4,372.0 L232.7,372.0 L233.0,372.0 L233.3,372.0 L233.7,372.0 L234.0,372.1 L234.3,372.1 L234.6,372.1 L234.9,372.1 L235.3,372.2 L235.6,372.2 L235.9,372.2 L236.2,372.1 L236.5,372.1 L236.9,372.1 L237.2,372.1 L237.5,372.1 L237.8,372.1 L238.1,372.2 L238.5,372.2 L238.8,372.2 L239.1,372.2 L239.4,372.1 L239.7,372.1 L240.1,372.1 L240.4,372.1 L240.7,372.0 L241.0,372.0 L241.3,371.9 L241.7,371.9 L242.0,372.1 L242.3,372.0 L242.6,372.1 L242.9,372.1 L243.3,372.0 L243.6,372.1 L243.9,372.0 L244.2,372.0 L244.5,372.0 L244.9,372.0 L245.2,372.0 L245.5,372.0 L245.8,372.0 L246.1,371.9 L246.5,371.9 L246.8,371.8 L247.1,371.8 L247.4,371.9 L247.7,371.9 L248.1,371.9 L248.4,371.9 L248.7,371.8 L249.0,371.8 L249.3,371.7 L249.7,371.7 L250.0,371.5 L250.3,371.3 L250.6,371.1 L250.9,370.8 L251.3,370.4 L251.6,369.4 L251.9,368.1 L252.2,366.2 L252.5,363.5 L252.8,360.3 L253.2,357.1 L253.5,354.3 L253.8,353.4 L254.1,354.4 L254.4,357.0 L254.8,360.4 L255.1,363.6 L255.4,366.2 L255.7,368.1 L256.0,369.3 L256.4,370.2 L256.7,370.7 L257.0,371.1 L257.3,371.4 L257.6,371.6 L258.0,371.7 L258.3,371.9 L258.6,371.9 L258.9,371.9 L259.2,371.9 L259.6,371.8 L259.9,371.8 L260.2,371.9 L260.5,372.0 L260.8,372.1 L261.2,372.2 L261.5,372.2 L261.8,372.1 L262.1,372.1 L262.4,372.1 L262.8,372.1 L263.1,372.1 L263.4,372.1 L263.7,372.1 L264.0,372.2 L264.4,372.2 L264.7,372.2 L265.0,372.2 L265.3,372.2 L265.6,372.2 L266.0,372.3 L266.3,372.2 L266.6,372.2 L266.9,372.2 L267.2,372.1 L267.6,372.1 L267.9,372.1 L268.2,372.1 L268.5,372.2 L268.8,372.3 L269.2,372.2 L269.5,372.1 L269.8,372.0 L270.1,372.0 L270.4,372.1 L270.8,372.1 L271.1,372.2 L271.4,372.2 L271.7,372.3 L272.0,372.3 L272.3,372.3 L272.7,372.3 L273.0,372.3 L273.3,372.3 L273.6,372.3 L273.9,372.3 L274.3,372.3 L274.6,372.4 L274.9,372.3 L275.2,372.4 L275.5,372.3 L275.9,372.3 L276.2,372.5 L276.5,372.4 L276.8,372.4 L277.1,372.4 L277.5,372.3 L277.8,372.4 L278.1,372.4 L278.4,372.4 L278.7,372.4 L279.1,372.3 L279.4,372.3 L279.7,372.3 L280.0,372.2 L280.3,372.4 L280.7,372.4 L281.0,372.4 L281.3,372.5 L281.6,372.4 L281.9,372.3 L282.3,372.3 L282.6,372.4 L282.9,372.5 L283.2,372.5 L283.5,372.5 L283.9,372.5 L284.2,372.4 L284.5,372.4 L284.8,372.3 L285.1,372.3 L285.5,372.3 L285.8,372.2 L286.1,372.3 L286.4,372.4 L286.7,372.4 L287.1,372.4 L287.4,372.4 L287.7,372.3 L288.0,372.3 L288.3,372.2 L288.7,372.2 L289.0,372.2 L289.3,372.3 L289.6,372.3 L289.9,372.3 L290.2,372.2 L290.6,372.1 L290.9,372.0 L291.2,372.0 L291.5,372.0 L291.8,371.9 L292.2,371.9 L292.5,371.8 L292.8,371.7 L293.1,371.7 L293.4,371.6 L293.8,371.5 L294.1,371.4 L294.4,371.3 L294.7,371.1 L295.0,370.9 L295.4,370.7 L295.7,370.4 L296.0,369.9 L296.3,369.1 L296.6,367.2 L297.0,363.9 L297.3,358.4 L297.6,349.9 L297.9,338.5 L298.2,324.3 L298.6,309.4 L298.9,296.4 L299.2,288.7 L299.5,288.8 L299.8,296.5 L300.2,309.6 L300.5,324.6 L300.8,338.8 L301.1,350.5 L301.4,358.9 L301.8,364.4 L302.1,367.7 L302.4,369.6 L302.7,370.6 L303.0,371.2 L303.4,371.5 L303.7,371.7 L304.0,371.8 L304.3,372.0 L304.6,372.1 L305.0,372.1 L305.3,372.1 L305.6,372.1 L305.9,372.2 L306.2,372.2 L306.6,372.3 L306.9,372.4 L307.2,372.3 L307.5,372.4 L307.8,372.3 L308.2,372.4 L308.5,372.5 L308.8,372.6 L309.1,372.6 L309.4,372.6 L309.7,372.5 L310.1,372.4 L310.4,372.4 L310.7,372.4 L311.0,372.5 L311.3,372.6 L311.7,372.6 L312.0,372.6 L312.3,372.6 L312.6,372.6 L312.9,372.7 L313.3,372.7 L313.6,372.8 L313.9,372.8 L314.2,372.6 L314.5,372.5 L314.9,372.2 L315.2,371.9 L315.5,371.5 L315.8,371.1 L316.1,370.6 L316.5,370.1 L316.8,369.9 L317.1,369.8 L317.4,370.3 L317.7,370.8 L318.1,371.3 L318.4,371.8 L318.7,372.1 L319.0,372.3 L319.3,372.4 L319.7,372.5 L320.0,372.5 L320.3,372.5 L320.6,372.6 L320.9,372.7 L321.3,372.7 L321.6,372.8 L321.9,372.8 L322.2,372.8 L322.5,372.8 L322.9,372.8 L323.2,372.8 L323.5,372.8 L323.8,372.8 L324.1,372.7 L324.5,372.8 L324.8,372.9 L325.1,372.9 L325.4,372.9 L325.7,372.9 L326.1,372.9 L326.4,372.8 L326.7,372.8 L327.0,372.9 L327.3,372.8 L327.7,372.9 L328.0,372.8 L328.3,372.9 L328.6,372.9 L328.9,373.0 L329.2,372.9 L329.6,372.8 L329.9,372.9 L330.2,372.9 L330.5,373.0 L330.8,373.0 L331.2,373.0 L331.5,373.0 L331.8,372.9 L332.1,372.9 L332.4,372.9 L332.8,372.9 L333.1,372.9 L333.4,373.0 L333.7,372.9 L334.0,373.0 L334.4,373.0 L334.7,372.9 L335.0,372.9 L335.3,372.9 L335.6,372.9 L336.0,372.8 L336.3,372.7 L336.6,372.8 L336.9,372.7 L337.2,372.8 L337.6,372.8 L337.9,372.7 L338.2,372.7 L338.5,372.6 L338.8,372.5 L339.2,372.5 L339.5,372.3 L339.8,371.8 L340.1,371.3 L340.4,370.5 L340.8,369.5 L341.1,368.5 L341.4,367.4 L341.7,366.4 L342.0,365.7 L342.4,365.7 L342.7,366.3 L343.0,367.2 L343.3,368.5 L343.6,369.6 L344.0,370.5 L344.3,371.2 L344.6,371.7 L344.9,372.1 L345.2,372.4 L345.6,372.5 L345.9,372.6 L346.2,372.6 L346.5,372.7 L346.8,372.8 L347.2,372.9 L347.5,372.9 L347.8,372.9 L348.1,372.9 L348.4,373.0 L348.7,373.0 L349.1,373.0 L349.4,373.0 L349.7,372.9 L350.0,372.9 L350.3,372.9 L350.7,372.9 L351.0,372.9 L351.3,372.9 L351.6,372.9 L351.9,372.9 L352.3,372.9 L352.6,373.0 L352.9,373.0 L353.2,373.1 L353.5,373.0 L353.9,372.9 L354.2,372.9 L354.5,372.9 L354.8,372.9 L355.1,373.0 L355.5,373.0 L355.8,372.9 L356.1,373.0 L356.4,373.0 L356.7,372.9 L357.1,373.0 L357.4,373.0 L357.7,373.0 L358.0,373.1 L358.3,373.0 L358.7,372.9 L359.0,372.9 L359.3,372.9 L359.6,372.9 L359.9,373.0 L360.3,373.0 L360.6,373.1 L360.9,373.0 L361.2,373.0 L361.5,373.0 L361.9,372.9 L362.2,373.0 L362.5,373.1 L362.8,373.0 L363.1,373.1 L363.5,373.1 L363.8,373.1 L364.1,373.1 L364.4,373.0 L364.7,373.0 L365.1,373.0 L365.4,373.1 L365.7,373.1 L366.0,373.1 L366.3,373.1 L366.7,373.1 L367.0,373.1 L367.3,373.1 L367.6,373.1 L367.9,373.1 L368.2,373.1 L368.6,373.1 L368.9,373.0 L369.2,372.9 L369.5,372.9 L369.8,372.9 L370.2,373.0 L370.5,373.1 L370.8,373.1 L371.1,373.1 L371.4,373.0 L371.8,373.0 L372.1,373.0 L372.4,373.0 L372.7,373.0 L373.0,373.0 L373.4,373.0 L373.7,373.0 L374.0,373.1 L374.3,373.0 L374.6,373.0 L375.0,373.0 L375.3,373.0 L375.6,372.9 L375.9,373.0 L376.2,373.0 L376.6,373.0 L376.9,373.1 L377.2,373.1 L377.5,373.0 L377.8,372.9 L378.2,372.9 L378.5,372.9 L378.8,372.9 L379.1,372.9 L379.4,373.0 L379.8,373.0 L380.1,373.0 L380.4,373.0 L380.7,373.0 L381.0,372.9 L381.4,373.0 L381.7,373.0 L382.0,372.9 L382.3,372.9 L382.6,372.8 L383.0,372.9 L383.3,373.0 L383.6,373.1 L383.9,373.1 L384.2,373.0 L384.6,373.0 L384.9,372.9 L385.2,373.0 L385.5,373.0 L385.8,373.1 L386.1,373.2 L386.5,373.1 L386.8,373.1 L387.1,373.1 L387.4,373.1 L387.7,373.0 L388.1,372.9 L388.4,372.9 L388.7,372.9 L389.0,372.9 L389.3,373.0 L389.7,373.0 L390.0,373.0 L390.3,373.0 L390.6,372.9 L390.9,372.8 L391.3,372.8 L391.6,372.8 L391.9,373.0 L392.2,373.0 L392.5,373.1 L392.9,373.2 L393.2,373.1 L393.5,373.0 L393.8,373.0 L394.1,372.9 L394.5,372.9 L394.8,372.9 L395.1,372.9 L395.4,372.9 L395.7,373.0 L396.1,373.0 L396.4,373.0 L396.7,373.0 L397.0,372.9 L397.3,372.9 L397.7,372.9 L398.0,372.9 L398.3,373.0 L398.6,373.1 L398.9,373.1 L399.3,373.0 L399.6,373.0 L399.9,373.0 L400.2,372.9 L400.5,373.0 L400.9,373.0 L401.2,373.0 L401.5,373.0 L401.8,372.9 L402.1,372.9 L402.5,372.9 L402.8,372.9 L403.1,372.9 L403.4,372.9 L403.7,373.0 L404.1,373.0 L404.4,373.1 L404.7,373.0 L405.0,373.0 L405.3,372.9 L405.6,373.0 L406.0,373.0 L406.3,373.1 L406.6,373.1 L406.9,373.0 L407.2,373.0 L407.6,373.0 L407.9,373.0 L408.2,373.0 L408.5,373.0 L408.8,373.0 L409.2,373.0 L409.5,373.1 L409.8,373.0 L410.1,373.1 L410.4,373.0 L410.8,373.0 L411.1,373.2 L411.4,373.2 L411.7,373.2 L412.0,373.2 L412.4,373.1 L412.7,373.0 L413.0,373.0 L413.3,373.0 L413.6,373.1 L414.0,373.1 L414.3,373.1 L414.6,373.1 L414.9,373.1 L415.2,373.0 L415.6,373.0 L415.9,373.0 L416.2,373.0 L416.5,373.0 L416.8,373.0 L417.2,373.0 L417.5,372.9 L417.8,373.0 L418.1,373.0 L418.4,372.9 L418.8,372.9 L419.1,373.0 L419.4,373.0 L419.7,373.0 L420.0,373.0 L420.4,372.9 L420.7,372.8 L421.0,372.9 L421.3,372.9 L421.6,372.9 L422.0,373.0 L422.3,373.0 L422.6,373.0 L422.9,373.0 L423.2,373.0 L423.6,373.1 L423.9,373.1 L424.2,373.1 L424.5,373.0 L424.8,373.0 L425.1,373.1 L425.5,373.0 L425.8,373.0 L426.1,372.9 L426.4,372.9 L426.7,373.0 L427.1,373.0 L427.4,373.0 L427.7,373.0 L428.0,372.9 L428.3,372.9 L428.7,373.0 L429.0,373.0 L429.3,372.9 L429.6,372.7 L429.9,372.4 L430.3,372.1 L430.6,371.8 L430.9,371.7 L431.2,371.7 L431.5,371.7 L431.9,371.9 L432.2,372.2 L432.5,372.4 L432.8,372.6 L433.1,372.8 L433.5,372.8 L433.8,372.9 L434.1,373.0 L434.4,372.9 L434.7,373.0 L435.1,373.0 L435.4,373.1 L435.7,373.2 L436.0,373.2 L436.3,373.3 L436.7,373.1 L437.0,373.1 L437.3,373.1 L437.6,373.0 L437.9,373.0 L438.3,373.1 L438.6,373.0 L438.9,373.1 L439.2,373.1 L439.5,373.1 L439.9,373.2 L440.2,373.1 L440.5,373.1 L440.8,373.1 L441.1,373.1 L441.5,373.1 L441.8,373.1 L442.1,373.0 L442.4,373.0 L442.7,373.1 L443.1,373.1 L443.4,373.1 L443.7,373.1 L444.0,373.1 L444.3,373.0 L444.6,373.0 L445.0,373.0 L445.3,372.9 L445.6,373.0 L445.9,373.0 L446.2,373.1 L446.6,373.1 L446.9,373.1 L447.2,373.0 L447.5,373.0 L447.8,373.0 L448.2,372.9 L448.5,373.0 L448.8,373.0 L449.1,373.0 L449.4,373.0 L449.8,373.0 L450.1,373.0 L450.4,373.0 L450.7,373.1 L451.0,373.1 L451.4,373.1 L451.7,373.1 L452.0,373.1 L452.3,373.1 L452.6,373.1 L453.0,373.2 L453.3,373.1 L453.6,373.1 L453.9,373.0 L454.2,373.0 L454.6,373.1 L454.9,373.1 L455.2,373.2 L455.5,373.1 L455.8,373.1 L456.2,373.0 L456.5,373.0 L456.8,373.0 L457.1,373.0 L457.4,373.0 L457.8,372.9 L458.1,373.0 L458.4,373.0 L458.7,373.0 L459.0,373.0 L459.4,373.0 L459.7,373.0 L460.0,373.0 L460.3,373.0 L460.6,373.0 L461.0,373.1 L461.3,373.1 L461.6,373.0 L461.9,373.0 L462.2,373.0 L462.6,373.0 L462.9,373.0 L463.2,373.0 L463.5,373.0 L463.8,372.9 L464.1,372.9 L464.5,372.9 L464.8,373.0 L465.1,373.0 L465.4,373.0 L465.7,373.0 L466.1,373.0 L466.4,373.0 L466.7,373.0 L467.0,373.0 L467.3,373.0 L467.7,373.0 L468.0,373.0 L468.3,373.1 L468.6,373.2 L468.9,373.2 L469.3,373.1 L469.6,373.1 L469.9,373.0 L470.2,373.0 L470.5,373.1 L470.9,373.1 L471.2,373.2 L471.5,373.2 L471.8,373.1 L472.1,373.1 L472.5,373.0 L472.8,372.9 L473.1,373.0 L473.4,372.9 L473.7,373.0 L474.1,373.1 L474.4,373.0 L474.7,373.0 L475.0,373.0 L475.3,372.9 L475.7,372.9 L476.0,372.9 L476.3,373.0 L476.6,373.0 L476.9,373.0 L477.3,373.0 L477.6,373.0 L477.9,373.1 L478.2,373.0 L478.5,373.0 L478.9,373.1 L479.2,373.0 L479.5,373.2 L479.8,373.2 L480.1,373.2 L480.5,373.2 L480.8,373.2 L481.1,373.1 L481.4,373.0 L481.7,372.9 L482.0,372.9 L482.4,372.9 L482.7,372.9 L483.0,372.9 L483.3,373.0 L483.6,373.0 L484.0,373.0 L484.3,373.0 L484.6,373.0 L484.9,372.9 L485.2,372.9 L485.6,373.0 L485.9,373.0 L486.2,373.1 L486.5,373.1 L486.8,373.1 L487.2,373.0 L487.5,373.0 L487.8,373.0 L488.1,373.0 L488.4,373.1 L488.8,373.1 L489.1,373.1 L489.4,373.0 L489.7,373.1 L490.0,373.1 L490.4,373.1 L490.7,373.1 L491.0,373.0 L491.3,373.0 L491.6,373.0 L492.0,373.0 L492.3,373.1 L492.6,373.0 L492.9,373.0 L493.2,373.0 L493.6,373.0 L493.9,373.1 L494.2,373.1 L494.5,373.1 L494.8,373.1 L495.2,373.1 L495.5,373.1 L495.8,373.1 L496.1,373.1 L496.4,373.0 L496.8,372.9 L497.1,373.0 L497.4,373.0 L497.7,373.0 L498.0,373.1 L498.4,373.0 L498.7,373.0 L499.0,372.9 L499.3,372.9 L499.6,372.9 L500.0,372.9 L500.3,372.9 L500.6,373.0 L500.9,372.9 L501.2,372.8 L501.5,372.9 L501.9,372.9 L502.2,373.0 L502.5,373.0 L502.8,373.0 L503.1,372.9 L503.5,372.9 L503.8,372.9 L504.1,372.9 L504.4,372.9 L504.7,373.0 L505.1,372.9 L505.4,373.0 L505.7,373.0 L506.0,372.9 L506.3,373.1 L506.7,373.1 L507.0,373.1 L507.3,373.1 L507.6,373.1 L507.9,373.0 L508.3,373.1 L508.6,373.1 L508.9,373.0 L509.2,372.9 L509.5,372.8 L509.9,372.7 L510.2,372.8 L510.5,372.9 L510.8,372.9 L511.1,372.8 L511.5,372.7 L511.8,372.6 L512.1,372.4 L512.4,372.2 L512.7,372.0 L513.1,371.7 L513.4,371.5 L513.7,371.2 L514.0,370.8 L514.3,370.6 L514.7,370.4 L515.0,370.3 L515.3,370.5 L515.6,370.7 L515.9,371.0 L516.3,371.3 L516.6,371.7 L516.9,372.0 L517.2,372.2 L517.5,372.5 L517.9,372.6 L518.2,372.7 L518.5,372.7 L518.8,372.7 L519.1,372.8 L519.5,372.7 L519.8,372.6 L520.1,372.5 L520.4,372.3 L520.7,372.1 L521.0,372.2 L521.4,372.3 L521.7,372.4 L522.0,372.5 L522.3,372.6 L522.6,372.6 L523.0,372.7 L523.3,372.9 L523.6,372.9 L523.9,372.8 L524.2,372.7 L524.6,372.5 L524.9,372.3 L525.2,372.1 L525.5,372.0 L525.8,371.7 L526.2,371.4 L526.5,371.2 L526.8,371.0 L527.1,371.0 L527.4,371.2 L527.8,371.6 L528.1,372.0 L528.4,372.3 L528.7,372.5 L529.0,372.7 L529.4,372.8 L529.7,372.9 L530.0,372.9"/>
<path class="fr" d="M50.5 284.5H530.0V508.1"/>
<path class="ax" d="M50.5 284.5V508.1H530.0"/>
<text class="tkb" text-anchor="end" x="39.7" y="511.7">0</text>
<text class="tkb" text-anchor="end" x="39.7" y="489.3">10</text>
<text class="tkb" text-anchor="end" x="39.7" y="466.9">20</text>
<text class="tkb" text-anchor="end" x="39.7" y="444.6">30</text>
<text class="tkb" text-anchor="end" x="39.7" y="422.2">40</text>
<text class="tkb" text-anchor="end" x="39.7" y="399.9">50</text>
<text class="tkb" text-anchor="end" x="39.7" y="377.5">60</text>
<text class="tkb" text-anchor="end" x="39.7" y="355.2">70</text>
<text class="tkb" text-anchor="end" x="39.7" y="332.8">80</text>
<text class="tkb" text-anchor="end" x="39.7" y="310.5">90</text>
<text class="tkb" text-anchor="end" x="39.7" y="288.1">100</text>
<text class="tkb" text-anchor="middle" x="50.7" y="526.6">10</text>
<text class="tkb" text-anchor="middle" x="130.6" y="526.6">15</text>
<text class="tkb" text-anchor="middle" x="210.5" y="526.6">20</text>
<text class="tkb" text-anchor="middle" x="290.4" y="526.6">25</text>
<text class="tkb" text-anchor="middle" x="370.4" y="526.6">30</text>
<text class="tkb" text-anchor="middle" x="450.3" y="526.6">35</text>
<text class="tkb" text-anchor="middle" x="530.2" y="526.6">40</text>
<text class="ti" text-anchor="middle" x="290.5" y="542.5">2θ (°)</text>
<text class="tib" text-anchor="middle" transform="translate(15.5 378.6) rotate(-90)">Intensity (x 10,000)</text>
<rect x="64" y="293" width="32" height="22" fill="#fff"/>
<text class="plb" x="69.9" y="308.5">(b)</text>
<text class="cl" text-anchor="middle" x="71" y="364">(3)</text>
<text class="cl" text-anchor="middle" x="71" y="429.5">(2)</text>
<text class="cl" text-anchor="middle" x="70.5" y="493">(1)</text>
<g fill="#000">
<ellipse cx="134.5" cy="361.0" rx="3.5" ry="4.1"/>
<ellipse cx="198.8" cy="357.7" rx="3.5" ry="4.1"/>
<ellipse cx="253.5" cy="345.6" rx="3.5" ry="4.1"/>
<ellipse cx="298.9" cy="282.8" rx="3.5" ry="4.1"/>
<ellipse cx="341.6" cy="356.5" rx="3.5" ry="4.1"/>
<ellipse cx="431.5" cy="363.2" rx="3.5" ry="4.1"/>
<ellipse cx="513.8" cy="362.5" rx="3.5" ry="4.1"/>
<ellipse cx="526.9" cy="362.5" rx="3.5" ry="4.1"/>
<ellipse cx="435.1" cy="296.6" rx="3.8" ry="4.4"/>
<rect x="220.0" y="359.3" width="7.8" height="7.8"/>
<rect x="312.9" y="357.4" width="7.8" height="7.8"/>
<rect x="472.6" y="359.3" width="7.8" height="7.8"/>
<rect x="431.9" y="321.3" width="7.8" height="7.8"/>
</g>
<text class="lgb" x="444" y="300.1">- β-spodumene</text>
<text class="lgb" x="444" y="328.3">- quartz</text>
</svg></body></html>
